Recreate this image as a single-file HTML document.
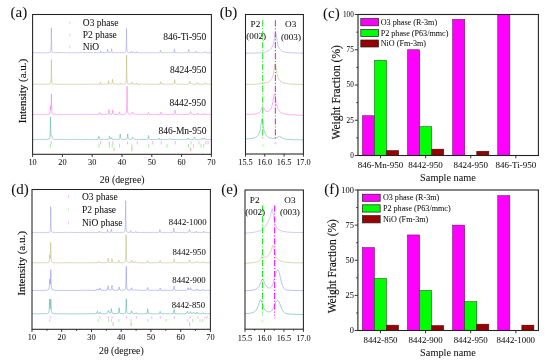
<!DOCTYPE html>
<html><head><meta charset="utf-8"><title>XRD figure</title>
<style>
html,body{margin:0;padding:0;background:#fff;}
svg{display:block;font-family:"Liberation Serif",serif;filter:blur(0.35px);}
</style></head>
<body>
<svg width="550" height="361" viewBox="0 0 550 361">
<rect width="550" height="361" fill="#fff"/>
<path d="M32.6 52.6L32.9 52.7L33.3 52.7L34.0 52.7L34.3 52.6L34.7 52.6L35.0 52.8L35.4 52.6L35.7 52.6L36.0 52.8L36.4 52.7L36.7 52.8L37.1 52.7L37.4 52.7L37.8 52.6L38.4 52.8L38.8 52.7L39.5 52.7L39.8 52.6L40.2 52.8L41.2 52.6L41.5 52.8L41.9 52.7L42.6 52.8L42.9 52.7L43.3 52.8L43.6 52.7L43.9 52.8L44.3 52.7L44.6 52.8L45.0 52.8L45.3 52.6L46.0 52.6L46.4 52.8L46.7 52.7L47.0 52.7L47.4 52.6L47.7 52.7L48.4 52.6L49.4 52.6L50.1 52.4L50.5 52.0L50.6 51.7L50.8 50.8L51.0 47.8L51.2 42.9L51.4 27.8L51.6 43.8L51.7 47.7L51.9 50.3L52.0 51.4L52.1 51.5L52.2 51.8L52.9 52.3L53.6 52.6L54.3 52.5L54.6 52.7L55.0 52.6L55.3 52.8L55.6 52.8L56.0 52.6L58.0 52.7L58.4 52.8L58.7 52.7L59.1 52.7L59.4 52.7L59.8 52.6L60.1 52.6L60.5 52.8L60.8 52.7L61.1 52.7L61.5 52.6L62.2 52.7L62.5 52.6L62.9 52.7L63.2 52.7L63.5 52.6L63.9 52.7L64.2 52.7L64.6 52.7L64.9 52.7L65.3 52.7L65.6 52.8L66.0 52.6L66.3 52.6L66.6 52.7L67.0 52.8L67.3 52.6L68.0 52.7L68.4 52.7L69.0 52.6L69.7 52.7L70.1 52.6L70.4 52.7L70.8 52.8L71.1 52.6L71.5 52.7L71.8 52.8L72.1 52.6L72.5 52.6L72.8 52.8L73.2 52.6L73.5 52.6L74.2 52.7L74.5 52.6L75.2 52.7L75.6 52.8L75.9 52.7L76.3 52.8L76.6 52.6L77.6 52.8L78.0 52.7L78.7 52.6L79.0 52.7L79.4 52.6L79.7 52.8L80.1 52.8L80.4 52.6L80.7 52.6L81.1 52.8L81.4 52.7L81.8 52.8L82.5 52.6L82.8 52.6L83.1 52.8L83.5 52.6L84.9 52.7L85.2 52.8L85.6 52.6L85.9 52.6L86.2 52.8L86.9 52.8L87.3 52.7L87.6 52.8L88.0 52.8L88.3 52.6L88.6 52.8L89.0 52.8L90.0 52.6L91.1 52.6L91.4 52.7L91.7 52.6L92.1 52.8L92.4 52.6L92.8 52.8L93.1 52.7L93.5 52.8L94.1 52.8L94.8 52.6L95.2 52.8L95.5 52.6L96.2 52.7L96.9 52.7L97.2 52.8L98.3 52.6L98.6 52.8L99.0 52.7L99.3 52.7L99.7 52.5L99.9 52.7L100.0 52.5L100.0 52.6L100.0 52.6L100.2 52.5L100.3 52.3L100.4 52.4L100.8 50.9L100.8 50.8L100.9 50.8L101.2 52.3L101.3 52.4L101.4 52.2L101.4 52.4L101.6 52.5L101.7 52.6L101.9 52.5L102.0 52.6L102.1 52.5L102.4 52.7L102.7 52.7L103.4 52.6L104.8 52.7L105.2 52.6L105.5 52.7L106.5 52.5L106.7 52.6L106.7 52.5L106.8 52.5L106.9 52.3L107.1 52.3L107.1 52.0L107.3 51.9L107.4 51.5L107.7 49.2L107.8 49.4L107.9 51.0L108.2 52.0L108.2 52.1L108.3 52.0L108.3 52.3L108.4 52.2L108.6 52.5L108.6 52.3L108.7 52.4L108.8 52.6L108.9 52.5L109.3 52.5L109.6 52.7L110.0 52.5L110.3 52.6L110.5 52.5L110.6 52.6L110.8 52.2L110.9 52.3L111.0 52.1L111.0 52.0L111.1 51.9L111.3 50.6L111.6 48.6L112.0 51.6L112.3 52.4L112.4 52.3L112.4 52.4L112.4 52.3L112.6 52.6L113.1 52.6L113.7 52.7L114.1 52.6L114.4 52.6L114.8 52.7L115.1 52.8L115.5 52.7L115.8 52.7L116.2 52.7L116.5 52.6L117.2 52.6L117.5 52.7L118.2 52.6L118.9 52.8L119.2 52.6L119.6 52.7L119.9 52.7L120.3 52.8L121.0 52.6L121.7 52.5L122.0 52.7L122.7 52.6L123.4 52.6L123.7 52.7L124.1 52.5L124.4 52.7L124.8 52.5L125.1 52.4L125.4 52.1L125.7 51.7L125.9 50.8L126.0 49.8L126.3 44.1L126.5 28.6L126.7 44.1L126.9 49.1L127.0 50.8L127.2 51.5L127.2 51.4L127.5 52.1L127.8 52.4L128.2 52.3L128.5 52.5L129.2 52.6L129.6 52.5L130.1 52.7L130.3 52.5L130.5 52.6L130.6 52.4L130.6 52.6L130.7 52.6L130.8 52.3L130.9 52.5L131.0 52.2L131.1 52.2L131.4 51.4L131.5 51.2L131.6 51.2L131.8 52.0L132.2 52.5L132.3 52.5L132.4 52.4L132.5 52.6L132.6 52.6L132.7 52.5L132.7 52.7L132.9 52.5L133.0 52.7L133.3 52.5L134.0 52.7L134.9 52.7L135.2 52.5L135.3 52.7L135.5 52.6L135.6 52.6L135.8 52.4L135.9 52.4L136.0 52.1L136.1 52.0L136.3 51.6L136.4 51.7L136.6 52.3L136.7 52.3L136.8 52.5L136.8 52.3L136.9 52.4L137.1 52.5L137.1 52.6L137.2 52.6L137.3 52.5L137.4 52.5L137.5 52.7L137.6 52.7L138.2 52.6L138.5 52.6L138.8 52.6L139.5 52.7L139.9 52.6L140.2 52.6L140.6 52.8L140.9 52.6L141.3 52.8L141.9 52.8L142.3 52.7L143.3 52.7L143.7 52.8L144.3 52.6L144.7 52.8L145.0 52.7L145.7 52.8L146.1 52.6L146.4 52.8L148.1 52.6L148.5 52.7L148.8 52.6L149.2 52.7L149.5 52.7L149.9 52.7L150.5 52.8L150.9 52.8L151.2 52.6L151.6 52.8L151.9 52.7L152.3 52.6L152.6 52.7L153.3 52.6L154.0 52.8L154.3 52.6L154.7 52.8L155.0 52.7L155.4 52.6L155.7 52.8L156.0 52.7L156.4 52.8L157.1 52.7L157.4 52.6L157.8 52.8L158.1 52.8L158.4 52.8L158.8 52.6L159.1 52.7L159.5 52.4L159.8 52.4L160.0 52.2L160.2 51.7L160.4 50.3L160.5 50.4L160.7 51.5L160.9 52.3L161.0 52.2L161.1 52.4L161.2 52.4L161.3 52.5L161.5 52.4L161.9 52.6L162.2 52.5L162.6 52.5L162.9 52.7L163.3 52.7L163.6 52.7L163.9 52.6L164.3 52.7L164.6 52.7L165.0 52.6L165.3 52.8L165.7 52.6L166.0 52.6L166.4 52.7L166.7 52.6L167.0 52.7L168.1 52.6L168.4 52.7L168.8 52.6L169.1 52.8L169.5 52.7L169.8 52.8L170.1 52.6L170.8 52.6L171.2 52.8L172.2 52.5L172.5 52.7L172.9 52.7L173.2 52.6L173.3 52.4L173.6 52.3L173.7 52.3L173.7 52.3L173.8 52.3L173.9 52.0L173.9 52.1L174.1 51.4L174.4 49.1L174.4 48.8L174.5 49.0L174.8 51.2L175.0 52.1L175.0 52.0L175.1 52.3L175.2 52.5L175.3 52.4L175.3 52.5L175.4 52.4L175.6 52.5L175.6 52.6L176.7 52.6L177.0 52.7L177.7 52.7L178.7 52.6L179.1 52.7L179.4 52.6L180.1 52.8L180.5 52.7L180.8 52.6L181.1 52.6L181.5 52.8L181.8 52.7L182.5 52.8L182.9 52.7L183.2 52.8L184.6 52.6L185.3 52.8L185.6 52.6L186.0 52.7L186.3 52.5L186.6 52.5L187.0 52.6L187.4 52.4L187.5 52.4L187.6 52.5L187.7 52.5L187.7 52.3L187.9 52.5L188.0 52.2L188.0 52.2L188.2 52.1L188.4 51.5L188.7 49.4L188.8 49.1L188.9 49.4L189.1 51.5L189.2 51.7L189.4 52.2L189.7 52.5L189.8 52.4L189.9 52.5L190.0 52.5L190.1 52.4L190.1 52.6L190.4 52.6L190.8 52.7L191.1 52.6L191.5 52.7L191.8 52.6L192.1 52.7L192.5 52.5L193.2 52.7L193.5 52.5L193.9 52.7L194.2 52.7L194.2 52.6L194.5 52.6L194.6 52.5L194.7 52.7L195.0 52.4L195.2 52.3L195.2 52.5L195.4 52.2L195.9 51.2L196.1 51.8L196.5 52.4L196.6 52.5L196.6 52.3L196.7 52.6L196.9 52.4L197.0 52.4L197.0 52.6L197.1 52.5L197.3 52.6L197.3 52.5L197.5 52.7L197.6 52.6L198.0 52.6L198.3 52.7L198.7 52.7L199.4 52.6L200.1 52.7L200.4 52.6L200.7 52.6L201.1 52.7L201.4 52.7L201.8 52.8L202.5 52.8L203.1 52.6L203.4 52.6L203.5 52.6L203.7 52.7L203.8 52.5L203.9 52.6L204.0 52.6L204.2 52.4L204.2 52.5L204.4 52.1L204.5 52.0L204.5 52.0L204.7 51.5L204.8 51.4L205.3 52.4L205.4 52.3L205.7 52.5L205.9 52.5L205.9 52.6L206.0 52.5L206.2 52.6L206.3 52.7L206.6 52.5L206.9 52.6L208.0 52.8L208.3 52.8L208.6 52.6L209.0 52.6L209.3 52.8L209.7 52.8L210.0 52.7L210.4 52.8L211.4 52.6" fill="none" stroke="#a2a2e2" stroke-width="0.6"/>
<path d="M32.6 84.1L32.9 84.1L33.3 84.2L34.0 84.1L34.7 84.3L35.4 84.3L35.7 84.1L36.0 84.2L37.1 84.1L37.4 84.1L37.8 84.3L38.8 84.3L39.1 84.1L39.8 84.2L40.9 84.3L41.2 84.1L41.5 84.2L41.9 84.2L42.6 84.1L42.9 84.2L43.3 84.1L43.6 84.3L44.6 84.1L45.0 84.3L45.3 84.2L45.7 84.3L46.7 84.1L47.0 84.2L47.7 84.1L48.1 84.1L48.4 84.2L48.8 84.0L49.1 84.0L49.4 84.1L50.1 83.8L50.5 83.4L50.6 83.1L50.7 83.1L50.8 82.2L51.0 79.3L51.2 75.5L51.4 59.7L51.6 75.3L51.7 79.4L51.9 81.8L52.0 82.6L52.1 83.2L52.5 83.8L53.6 84.0L53.9 84.0L54.6 84.3L55.3 84.0L56.0 84.1L56.3 84.2L56.7 84.1L57.4 84.1L57.7 84.3L58.0 84.2L58.7 84.1L59.4 84.1L59.8 84.2L60.1 84.1L60.5 84.1L60.8 84.2L61.1 84.1L61.5 84.3L61.8 84.1L62.5 84.3L62.9 84.2L63.2 84.3L63.5 84.2L63.9 84.1L64.2 84.2L64.6 84.1L64.9 84.2L65.3 84.1L65.6 84.3L66.0 84.3L66.6 84.1L67.0 84.1L68.0 84.1L68.4 84.3L68.7 84.1L69.0 84.1L69.4 84.3L69.7 84.2L70.1 84.3L70.4 84.2L70.8 84.3L71.1 84.2L71.8 84.3L72.5 84.1L72.8 84.1L73.2 84.3L73.9 84.3L74.2 84.2L74.9 84.3L75.2 84.2L75.6 84.3L75.9 84.2L76.6 84.2L77.0 84.1L77.3 84.3L77.6 84.3L78.0 84.1L78.3 84.3L78.7 84.3L79.0 84.2L79.4 84.1L79.7 84.3L80.1 84.1L80.4 84.3L81.1 84.1L81.4 84.1L81.8 84.2L82.1 84.2L82.8 84.3L83.1 84.1L83.5 84.1L83.8 84.3L84.2 84.1L84.5 84.3L84.9 84.1L85.2 84.3L85.9 84.3L86.2 84.2L86.6 84.3L86.9 84.1L87.3 84.2L87.6 84.2L88.0 84.3L88.6 84.2L89.0 84.2L89.3 84.1L89.7 84.1L90.0 84.2L90.4 84.2L90.7 84.3L91.4 84.1L92.1 84.3L92.8 84.1L93.1 84.3L93.5 84.3L93.8 84.1L94.1 84.2L94.5 84.2L94.8 84.3L95.2 84.1L95.5 84.1L96.2 84.3L96.6 84.1L96.9 84.1L97.6 84.3L98.3 84.1L98.6 84.2L99.0 84.2L99.2 84.0L99.3 84.2L99.3 84.0L99.5 84.1L99.6 84.0L99.7 84.1L99.7 83.9L99.8 84.0L100.2 83.2L100.4 82.3L100.5 82.1L101.0 83.8L101.1 83.8L101.3 84.1L101.4 84.0L101.5 84.1L101.6 84.0L101.7 84.2L101.7 84.1L101.8 84.2L101.9 84.1L102.1 84.2L102.4 84.2L103.4 84.1L103.8 84.2L104.1 84.1L104.5 84.2L104.8 84.1L105.5 84.1L105.8 84.2L106.2 84.1L106.5 84.2L106.9 84.1L107.2 84.1L107.5 84.0L107.6 84.0L107.6 83.9L107.7 84.1L107.8 83.8L107.9 83.9L108.1 83.4L108.2 83.4L108.4 82.5L108.5 80.9L108.6 80.7L108.9 83.2L109.0 83.1L109.1 83.5L109.3 83.9L109.4 83.8L109.5 84.0L109.5 83.9L109.6 84.1L110.0 84.0L111.3 84.1L111.4 83.9L111.5 83.8L111.6 83.9L111.7 83.5L111.9 83.4L112.0 83.1L112.1 82.5L112.4 79.7L112.5 79.3L112.8 82.3L112.9 83.3L113.1 83.6L113.1 83.5L113.3 83.7L113.3 84.0L113.4 83.8L113.4 84.0L113.6 84.0L113.7 84.1L114.1 84.0L114.4 84.1L114.8 84.0L115.5 84.0L115.8 84.1L116.5 84.1L116.8 84.3L117.2 84.1L117.5 84.3L118.6 84.2L118.9 84.3L119.1 84.2L119.2 84.1L119.4 84.2L119.6 84.1L119.6 84.0L119.7 84.1L119.9 83.9L120.0 84.0L120.1 83.7L120.3 83.6L120.4 83.2L120.5 83.1L120.6 83.3L120.6 83.2L120.7 83.6L120.8 83.5L120.9 83.9L121.0 83.8L121.1 84.1L121.2 84.1L121.3 84.0L121.3 84.1L121.5 84.1L121.6 84.0L121.7 84.2L121.8 84.2L122.0 84.2L122.3 84.1L122.7 84.2L123.0 84.2L123.7 84.0L124.4 84.1L124.8 83.9L125.1 83.9L125.4 83.7L125.8 83.1L125.9 82.8L126.1 81.4L126.3 78.5L126.4 73.9L126.6 55.2L126.8 73.7L127.0 79.6L127.2 81.9L127.3 82.8L127.5 83.2L128.2 84.0L128.9 84.1L129.2 83.9L129.6 84.1L129.9 84.0L130.3 84.1L130.4 84.0L130.5 84.0L130.6 84.1L130.7 84.1L130.8 83.9L131.0 83.9L131.1 83.7L131.2 83.7L131.3 83.8L131.4 83.5L131.8 82.1L132.0 82.4L132.1 83.3L132.2 83.4L132.3 83.7L132.3 83.6L132.5 83.9L132.6 83.9L132.7 84.0L132.7 83.9L132.8 84.0L132.9 83.9L133.1 84.2L133.2 84.0L133.3 84.2L133.7 84.0L134.0 84.3L134.4 84.1L134.7 84.0L135.1 84.1L135.4 84.2L135.5 84.2L135.6 84.2L135.8 84.0L136.0 84.2L136.1 84.0L136.2 84.1L136.3 83.9L136.4 84.0L136.4 83.8L136.5 83.8L136.7 83.6L136.8 83.2L136.8 83.4L136.9 83.1L137.0 83.3L137.1 83.4L137.1 83.6L137.2 83.6L137.4 83.8L137.6 84.2L137.8 84.1L137.8 84.2L137.9 84.0L138.0 84.0L138.1 84.2L138.2 84.3L138.2 84.2L138.3 84.3L138.5 84.0L138.8 84.3L139.5 84.2L139.9 84.3L140.2 84.1L140.9 84.1L141.6 84.2L142.3 84.2L143.0 84.3L143.3 84.3L143.7 84.1L144.7 84.1L145.0 84.2L145.4 84.1L145.7 84.2L146.4 84.2L147.1 84.3L147.4 84.1L147.8 84.2L148.1 84.3L148.5 84.1L148.8 84.1L149.2 84.1L149.5 84.3L150.2 84.3L150.9 84.1L151.6 84.3L152.3 84.1L152.9 84.2L153.6 84.2L154.3 84.1L154.7 84.3L155.0 84.3L155.7 84.1L156.7 84.3L157.1 84.2L157.4 84.3L158.1 84.1L158.4 84.2L159.5 84.2L159.6 84.0L159.8 84.1L159.9 83.9L160.1 83.9L160.2 83.8L160.2 83.8L160.5 83.0L160.7 81.9L160.7 81.7L161.0 83.0L161.1 83.5L161.2 83.6L161.2 83.8L161.3 83.8L161.4 84.0L161.5 83.9L161.5 84.0L161.6 83.9L161.7 84.1L161.8 84.2L161.9 84.0L161.9 84.2L162.9 84.2L163.6 84.1L164.3 84.3L164.6 84.1L165.0 84.2L165.3 84.1L166.0 84.3L166.4 84.3L166.7 84.1L167.0 84.2L167.4 84.1L168.1 84.3L168.4 84.3L168.8 84.1L169.1 84.2L169.5 84.1L170.1 84.3L170.5 84.1L170.8 84.3L171.5 84.3L171.9 84.1L172.2 84.3L172.9 84.3L173.2 84.0L173.6 83.9L173.7 84.0L173.9 83.8L174.0 83.9L174.3 83.4L174.4 82.5L174.7 79.6L175.1 82.7L175.2 83.4L175.5 83.9L175.7 83.9L175.8 84.0L175.9 83.9L176.0 84.0L176.3 84.1L177.4 84.2L177.7 84.1L178.0 84.3L178.4 84.2L179.1 84.3L179.4 84.2L179.8 84.1L181.5 84.1L181.8 84.2L182.5 84.2L182.9 84.2L183.2 84.1L183.5 84.3L183.9 84.3L184.2 84.1L184.6 84.3L184.9 84.1L185.3 84.1L185.6 84.3L186.0 84.0L186.3 84.0L186.6 84.3L187.0 84.0L187.3 84.2L188.3 84.0L188.4 84.2L188.4 84.0L188.5 84.0L188.7 84.0L188.9 83.8L189.0 83.9L189.0 83.7L189.2 83.5L189.3 83.5L189.7 82.2L189.8 81.5L189.9 81.2L190.1 81.4L190.4 83.2L190.7 83.7L190.8 83.7L190.8 83.6L190.9 83.8L191.1 83.8L191.1 83.9L191.3 83.9L191.5 84.1L191.6 84.2L191.8 84.0L192.5 84.2L192.8 84.1L193.2 84.3L193.5 84.1L193.9 84.3L194.6 84.3L195.6 84.1L195.8 84.2L195.9 84.1L196.1 84.2L196.3 83.9L196.4 84.1L196.6 84.0L196.8 83.7L196.9 83.6L197.0 83.7L197.4 82.6L197.5 82.9L197.6 83.0L197.8 83.5L198.0 83.9L198.2 83.9L198.5 84.1L198.7 84.1L198.7 84.2L198.8 84.2L199.0 84.2L199.7 84.1L201.1 84.3L201.8 84.2L202.1 84.1L202.5 84.2L202.8 84.1L203.1 84.2L203.8 84.0L203.8 84.2L204.1 84.0L204.2 84.2L204.4 84.0L204.5 84.1L204.8 83.7L205.0 83.6L205.1 83.5L205.2 83.1L205.4 82.6L205.7 83.0L205.9 83.7L205.9 83.6L206.2 83.9L206.6 84.2L206.6 84.0L206.8 84.1L206.9 84.0L207.0 84.0L207.1 84.2L207.3 84.1L208.0 84.3L208.6 84.1L209.3 84.2L210.0 84.1L210.4 84.3L210.7 84.2L211.4 84.3" fill="none" stroke="#bdbd7e" stroke-width="0.6"/>
<path d="M32.6 114.5L34.3 114.6L34.7 114.4L35.4 114.6L35.7 114.5L36.0 114.6L36.4 114.4L36.7 114.5L37.1 114.4L37.8 114.5L38.1 114.4L38.8 114.4L39.1 114.6L39.5 114.6L39.8 114.4L40.2 114.6L40.5 114.4L40.9 114.5L41.2 114.4L41.5 114.4L41.9 114.6L42.2 114.4L42.6 114.4L42.9 114.6L43.3 114.6L43.6 114.4L43.9 114.6L44.3 114.5L44.6 114.5L45.0 114.4L45.3 114.6L45.7 114.5L46.0 114.6L46.4 114.5L46.7 114.4L47.0 114.4L48.1 114.2L48.8 114.2L49.1 113.9L49.3 114.0L49.4 113.7L49.4 113.9L49.8 113.2L49.8 112.9L49.8 113.0L50.0 112.0L50.4 105.5L50.7 109.8L50.8 110.2L51.0 109.4L51.1 106.2L51.4 93.9L51.7 107.0L51.9 111.3L52.1 113.1L52.2 113.0L52.3 113.5L52.3 113.4L52.5 113.8L52.9 114.2L53.6 114.4L53.9 114.2L54.3 114.3L54.6 114.3L55.0 114.5L55.3 114.4L55.6 114.4L56.0 114.6L56.7 114.6L57.0 114.4L57.7 114.5L59.1 114.4L59.4 114.4L59.8 114.6L61.5 114.4L61.8 114.4L62.2 114.6L62.5 114.6L62.9 114.5L63.2 114.6L64.6 114.6L64.9 114.5L65.3 114.5L65.6 114.4L66.3 114.6L66.6 114.5L67.0 114.4L67.3 114.6L68.0 114.5L68.4 114.4L68.7 114.5L69.0 114.4L69.4 114.5L69.7 114.5L70.1 114.6L70.4 114.5L70.8 114.6L71.1 114.5L72.1 114.6L72.5 114.5L72.8 114.6L73.5 114.5L73.9 114.6L74.2 114.6L74.5 114.5L74.9 114.5L75.2 114.4L75.6 114.6L75.9 114.6L76.3 114.5L77.3 114.6L77.6 114.4L78.0 114.6L79.0 114.5L79.7 114.6L80.4 114.6L80.7 114.4L81.8 114.5L82.1 114.4L82.5 114.5L82.8 114.5L83.1 114.4L83.5 114.5L84.2 114.4L84.9 114.4L85.9 114.4L86.2 114.5L86.6 114.5L86.9 114.5L87.3 114.5L87.6 114.4L88.0 114.6L88.3 114.4L88.6 114.5L89.3 114.5L89.7 114.4L90.0 114.6L90.7 114.4L91.1 114.5L91.4 114.4L91.7 114.5L92.1 114.4L92.8 114.6L93.5 114.5L93.8 114.6L94.8 114.4L95.2 114.5L96.2 114.6L96.9 114.4L97.2 114.5L97.6 114.3L97.7 114.4L97.9 114.4L97.9 114.3L98.0 114.4L98.2 114.4L98.3 114.3L98.6 114.1L98.6 114.3L98.8 114.1L98.9 114.1L99.0 114.0L99.2 113.4L99.3 113.4L99.5 112.7L99.7 112.4L100.3 113.9L100.5 114.0L100.7 114.3L100.8 114.1L101.0 114.3L101.0 114.2L101.1 114.4L101.3 114.4L101.4 114.3L101.6 114.3L101.7 114.5L101.7 114.3L102.1 114.4L103.4 114.5L103.8 114.4L104.1 114.5L104.5 114.4L104.8 114.5L106.5 114.4L106.9 114.4L107.2 114.3L107.5 114.1L107.7 114.3L107.9 114.1L107.9 113.9L108.0 114.0L108.2 113.6L108.5 112.8L108.9 109.4L109.2 112.0L109.5 113.5L109.6 113.8L109.6 113.6L109.8 114.0L109.9 114.0L110.0 114.0L110.2 114.3L110.3 114.1L110.7 114.3L111.0 114.3L111.3 114.3L111.4 114.1L111.5 114.3L111.6 114.3L111.7 114.2L111.8 113.9L111.9 114.1L112.0 113.8L112.1 113.9L112.4 112.8L112.4 112.9L112.7 110.0L112.9 110.3L113.1 112.2L113.4 113.6L113.5 113.9L113.6 113.8L114.0 114.3L114.1 114.1L114.2 114.3L114.4 114.2L114.8 114.4L115.1 114.4L115.5 114.5L115.8 114.4L116.2 114.5L116.5 114.4L116.8 114.4L117.2 114.4L117.5 114.5L118.2 114.3L118.4 114.4L118.5 114.2L118.6 114.3L118.7 114.1L118.8 114.2L118.9 114.0L119.0 114.0L119.1 113.7L119.2 113.7L119.5 112.1L119.6 112.0L119.6 111.8L119.7 112.1L119.8 112.8L120.1 113.9L120.3 114.1L120.3 114.0L120.4 114.2L120.6 114.2L120.7 114.3L121.0 114.2L121.0 114.4L121.7 114.5L122.0 114.4L122.3 114.5L122.7 114.4L123.7 114.4L124.4 114.2L125.1 114.1L125.4 113.9L125.8 113.9L126.1 113.2L126.4 112.2L126.6 110.0L126.8 103.2L127.1 86.4L127.3 104.5L127.5 109.0L127.7 111.8L128.0 113.1L128.2 113.5L128.9 114.0L129.2 114.1L129.9 114.4L130.3 114.2L130.5 114.3L130.6 114.2L130.6 114.3L130.8 114.3L130.9 114.1L131.1 114.1L131.3 114.2L131.5 113.9L131.6 114.0L131.7 113.6L132.0 113.3L132.1 112.6L132.4 112.0L132.7 112.4L132.9 113.3L133.0 113.5L133.0 113.7L133.2 113.7L133.5 114.1L133.6 114.0L133.8 114.2L134.1 114.2L134.2 114.4L134.4 114.3L134.4 114.3L134.7 114.4L135.1 114.3L135.4 114.4L135.8 114.3L136.4 114.6L136.8 114.5L137.1 114.6L137.5 114.4L137.8 114.3L138.2 114.5L139.2 114.4L140.2 114.6L140.6 114.4L141.3 114.6L141.6 114.4L141.9 114.4L142.3 114.4L142.6 114.4L143.0 114.6L143.3 114.6L143.7 114.4L144.3 114.4L144.7 114.4L145.0 114.4L145.7 114.5L146.4 114.3L146.8 114.5L147.1 114.3L147.3 114.3L147.4 114.2L147.4 114.3L147.5 114.3L147.6 114.4L147.7 114.3L147.8 114.3L147.9 114.2L148.1 113.8L148.1 113.8L148.5 112.4L148.8 113.4L149.2 114.2L149.3 114.1L149.4 114.4L149.5 114.3L149.5 114.2L149.7 114.3L149.9 114.5L150.5 114.4L150.9 114.4L151.6 114.4L151.9 114.3L152.3 114.5L152.6 114.6L152.9 114.5L153.3 114.4L153.6 114.5L154.0 114.4L154.3 114.5L154.7 114.5L155.0 114.6L155.4 114.6L155.7 114.4L156.0 114.4L156.4 114.6L156.7 114.5L157.1 114.5L157.4 114.5L158.1 114.6L158.4 114.5L158.8 114.6L159.5 114.3L159.6 114.5L159.8 114.2L159.8 114.5L159.9 114.2L160.0 114.3L160.1 114.2L160.2 114.3L160.5 113.8L160.5 113.8L160.7 113.3L160.9 112.2L161.0 112.1L161.5 113.9L161.5 113.8L161.6 113.9L161.8 114.1L161.9 114.3L162.0 114.2L162.1 114.4L162.2 114.3L162.4 114.5L162.6 114.4L162.9 114.5L163.6 114.3L163.9 114.5L164.3 114.5L164.6 114.4L165.0 114.4L165.7 114.4L167.0 114.5L167.4 114.5L167.7 114.6L169.5 114.5L169.8 114.6L170.1 114.4L170.8 114.5L171.9 114.3L173.2 114.5L173.6 114.4L173.7 114.3L173.8 114.4L173.9 114.2L173.9 114.3L174.0 114.1L174.1 114.2L174.2 114.1L174.4 113.8L174.7 112.5L174.9 110.8L175.0 111.0L175.0 110.5L175.1 110.9L175.4 113.1L175.6 113.8L175.9 114.0L176.0 114.2L176.1 114.3L176.2 114.2L176.3 114.4L176.3 114.2L177.4 114.5L177.7 114.4L178.0 114.5L178.4 114.5L178.7 114.4L179.1 114.4L179.4 114.5L180.1 114.6L180.8 114.5L181.5 114.5L181.8 114.6L182.2 114.4L182.5 114.4L183.2 114.6L183.5 114.4L183.9 114.4L184.9 114.5L185.3 114.4L185.6 114.4L186.0 114.5L187.0 114.5L187.3 114.3L188.0 114.5L188.4 114.5L188.5 114.3L188.6 114.4L188.7 114.4L188.8 114.4L188.9 114.2L189.0 114.3L189.2 114.3L189.4 114.0L189.6 113.8L189.9 113.4L190.4 111.8L190.5 111.5L190.7 111.9L191.0 113.1L191.5 113.9L191.8 114.2L191.9 114.1L192.1 114.3L192.3 114.2L192.5 114.4L192.5 114.3L192.6 114.4L192.8 114.4L193.2 114.5L193.5 114.5L193.9 114.3L194.2 114.5L194.6 114.5L195.2 114.3L195.6 114.4L195.9 114.4L195.9 114.5L196.1 114.5L196.3 114.3L196.6 114.4L196.8 114.2L196.9 114.2L197.0 114.3L197.2 114.0L197.3 114.0L197.5 113.8L197.8 113.0L198.0 113.0L198.3 113.5L198.4 113.8L198.6 113.8L198.7 114.2L198.9 114.1L199.0 114.3L199.0 114.2L199.2 114.2L199.4 114.3L199.6 114.4L199.7 114.3L199.9 114.5L200.1 114.4L200.4 114.3L200.7 114.4L201.1 114.6L201.8 114.4L201.9 114.3L202.1 114.5L202.2 114.4L202.5 114.5L202.8 114.4L202.8 114.2L202.9 114.2L203.1 114.4L203.1 114.2L203.2 114.3L203.5 114.1L203.5 114.0L203.7 113.9L203.9 113.4L204.1 113.7L204.2 113.7L204.2 113.9L204.4 114.1L204.5 114.0L204.5 114.1L204.8 114.3L204.9 114.2L205.0 114.4L205.1 114.3L205.3 114.4L205.4 114.3L205.6 114.4L205.6 114.5L205.7 114.5L205.9 114.3L206.0 114.5L206.2 114.6L206.9 114.4L207.3 114.4L207.6 114.6L208.0 114.6L208.3 114.4L209.0 114.5L209.3 114.4L209.7 114.6L210.0 114.5L210.4 114.6L210.7 114.4L211.4 114.6" fill="none" stroke="#ff7af0" stroke-width="0.6"/>
<path d="M32.6 139.6L32.9 139.6L34.0 139.4L34.3 139.5L34.7 139.5L35.0 139.6L35.4 139.5L35.7 139.6L36.0 139.4L36.4 139.6L37.1 139.5L37.8 139.5L38.1 139.4L38.8 139.6L39.1 139.4L39.5 139.6L40.2 139.6L40.9 139.4L41.2 139.6L41.5 139.6L42.2 139.4L42.6 139.4L42.9 139.5L43.3 139.4L43.6 139.6L44.3 139.4L44.6 139.5L45.0 139.4L45.3 139.5L45.7 139.5L46.0 139.4L47.4 139.5L47.7 139.2L48.4 139.2L48.8 139.0L48.9 139.0L49.1 138.8L49.1 139.0L49.4 138.3L49.5 138.4L49.8 137.5L50.1 134.8L50.2 131.1L50.5 116.9L50.8 130.7L50.9 134.1L51.1 135.7L51.2 135.8L51.2 136.0L51.2 135.9L51.3 136.1L51.5 135.8L51.5 135.9L51.7 135.8L51.9 136.2L52.1 137.2L52.5 138.3L52.9 138.7L53.1 138.8L53.5 139.2L53.6 139.1L53.9 139.3L54.1 139.2L54.3 139.3L54.3 139.2L55.3 139.5L55.6 139.3L56.0 139.3L56.3 139.4L56.7 139.3L57.0 139.3L57.4 139.5L57.7 139.4L58.0 139.5L58.4 139.4L58.7 139.6L59.1 139.6L59.4 139.4L59.8 139.4L60.1 139.6L60.8 139.5L61.1 139.6L61.5 139.6L62.5 139.4L62.9 139.4L63.2 139.4L63.5 139.5L63.9 139.5L64.2 139.4L64.6 139.5L64.9 139.4L65.3 139.4L65.6 139.5L66.0 139.5L66.3 139.6L66.6 139.5L67.0 139.5L67.3 139.4L67.7 139.6L68.0 139.4L68.7 139.6L69.4 139.6L69.7 139.5L70.4 139.6L70.8 139.4L71.1 139.6L71.5 139.6L71.8 139.5L72.1 139.6L72.8 139.4L73.2 139.5L73.5 139.4L73.9 139.6L74.2 139.6L74.5 139.4L74.9 139.6L75.2 139.4L75.6 139.6L75.9 139.4L76.3 139.6L76.6 139.5L77.0 139.6L77.3 139.4L77.6 139.4L78.0 139.6L78.7 139.5L79.0 139.4L79.7 139.5L80.1 139.4L80.4 139.6L80.7 139.6L81.1 139.6L82.1 139.4L82.5 139.6L82.8 139.4L83.1 139.5L83.8 139.5L84.2 139.4L84.5 139.4L84.9 139.5L85.2 139.4L85.6 139.5L85.9 139.4L86.6 139.4L86.9 139.5L88.0 139.4L88.6 139.6L89.3 139.4L90.0 139.4L90.7 139.6L91.4 139.4L92.8 139.5L93.1 139.6L93.5 139.5L94.8 139.6L95.2 139.4L95.9 139.6L96.2 139.4L96.6 139.5L97.4 139.2L97.5 139.4L97.6 139.2L97.6 139.4L97.7 139.2L97.8 139.2L97.9 139.1L98.0 139.2L98.1 139.0L98.3 138.8L98.5 138.1L98.8 136.4L98.9 136.7L99.0 137.5L99.0 137.3L99.2 138.5L99.3 138.9L99.6 139.1L99.7 139.1L99.7 139.3L99.9 139.4L100.0 139.3L100.0 139.4L100.1 139.3L100.3 139.5L101.0 139.6L101.4 139.5L102.1 139.5L102.4 139.4L102.7 139.5L103.1 139.3L103.4 139.4L103.8 139.4L104.1 139.6L104.5 139.3L104.8 139.6L105.2 139.6L105.5 139.4L105.8 139.5L106.2 139.3L107.6 139.3L107.9 139.4L108.1 139.2L108.2 139.3L108.3 139.2L108.4 139.2L108.5 139.1L108.6 139.2L108.7 139.0L108.8 138.9L108.9 138.7L109.3 137.2L109.4 136.3L109.5 136.0L109.6 136.3L109.8 137.7L110.0 138.6L110.3 139.0L110.3 138.8L110.4 139.1L110.5 139.1L110.5 139.0L110.6 138.9L110.7 139.1L110.8 138.8L110.9 138.9L110.9 138.8L111.0 138.9L111.1 138.8L111.3 137.9L111.6 137.5L111.7 137.6L111.9 138.5L112.2 139.0L112.4 139.1L112.4 139.2L112.6 139.3L112.7 139.2L112.9 139.2L113.1 139.4L113.1 139.3L113.2 139.4L113.4 139.3L113.7 139.5L114.1 139.5L114.4 139.3L114.8 139.6L115.5 139.3L115.8 139.4L116.2 139.4L116.5 139.5L116.8 139.5L117.2 139.3L117.5 139.3L118.2 139.5L118.6 139.4L118.8 139.2L118.9 139.1L118.9 139.2L119.0 139.1L119.1 139.2L119.2 139.0L119.3 139.1L119.5 138.7L119.6 138.3L119.7 138.1L119.9 136.9L120.1 134.5L120.2 134.0L120.3 134.2L120.6 137.7L120.8 138.4L121.0 138.7L121.0 138.7L121.2 139.1L121.3 139.0L121.3 139.1L121.4 139.0L121.5 139.3L121.6 139.4L121.7 139.3L122.0 139.3L122.3 139.3L122.7 139.3L123.0 139.5L123.7 139.5L124.8 139.3L125.1 139.4L125.4 139.3L126.1 139.4L126.3 139.2L126.4 139.3L126.6 139.0L126.7 139.1L126.8 139.0L126.9 138.7L127.0 138.7L127.2 138.1L127.7 133.9L128.1 137.5L128.3 138.5L128.5 138.8L128.6 139.0L128.7 138.9L129.0 139.2L129.1 139.1L129.2 139.2L129.6 139.3L130.3 139.4L130.6 139.3L130.6 139.4L130.8 139.4L130.9 139.3L131.2 139.3L131.3 139.2L131.4 139.1L131.5 139.3L131.6 139.1L131.8 138.9L132.0 138.9L132.0 138.8L132.1 138.7L132.6 137.2L132.7 137.0L132.9 137.1L133.2 138.2L133.6 138.9L134.0 139.3L134.2 139.3L134.4 139.3L134.4 139.3L134.7 139.5L134.7 139.3L134.8 139.2L135.1 139.3L135.8 139.5L136.1 139.4L136.4 139.5L136.8 139.5L137.5 139.6L137.8 139.4L138.2 139.5L138.5 139.4L139.5 139.5L139.9 139.4L140.2 139.4L141.6 139.4L143.0 139.5L144.0 139.4L144.3 139.5L144.7 139.4L145.4 139.4L145.7 139.5L146.1 139.3L147.1 139.4L147.3 139.3L147.4 139.1L147.4 139.3L147.8 138.9L147.8 138.8L147.9 138.7L148.0 138.5L148.3 136.8L148.4 135.9L148.5 135.5L148.5 135.5L148.6 135.9L148.9 138.1L149.1 138.7L149.2 138.8L149.3 139.1L149.4 139.0L149.5 139.2L149.7 139.2L149.8 139.3L149.9 139.4L149.9 139.2L150.2 139.5L150.9 139.4L152.3 139.6L152.6 139.5L153.3 139.4L153.6 139.6L154.3 139.4L154.7 139.5L155.0 139.4L155.7 139.5L156.4 139.5L156.7 139.6L157.1 139.5L157.4 139.6L157.6 139.5L157.7 139.4L157.8 139.5L157.8 139.4L157.9 139.5L158.2 139.3L158.3 139.5L158.4 139.2L158.5 139.4L158.7 139.1L158.8 139.0L158.9 139.0L159.1 138.6L159.1 138.7L159.3 138.5L159.4 138.5L159.5 138.9L159.5 138.7L159.7 139.1L159.8 139.3L159.8 139.2L160.2 139.3L160.2 139.4L160.5 139.3L160.6 139.5L160.8 139.4L160.9 139.4L160.9 139.6L161.2 139.5L161.5 139.6L162.2 139.5L162.6 139.4L162.9 139.6L163.3 139.6L163.6 139.4L163.9 139.4L164.3 139.5L164.6 139.5L165.0 139.4L165.3 139.6L165.7 139.4L166.0 139.5L166.7 139.4L167.0 139.5L167.4 139.5L168.0 139.5L168.1 139.3L168.2 139.4L168.4 139.4L168.4 139.4L168.5 139.3L168.7 139.4L168.8 139.3L169.1 139.3L169.4 138.8L169.5 138.9L169.7 138.6L169.9 138.7L170.0 139.0L170.1 139.1L170.3 139.2L170.4 139.2L170.5 139.3L170.5 139.3L170.6 139.3L170.8 139.5L171.0 139.4L171.1 139.5L171.2 139.4L171.9 139.4L172.2 139.6L172.5 139.5L173.9 139.5L174.3 139.4L174.6 139.4L175.0 139.5L175.3 139.5L175.6 139.4L176.3 139.4L176.7 139.6L177.0 139.6L177.4 139.4L177.7 139.5L178.4 139.4L178.7 139.4L179.1 139.6L179.4 139.6L179.8 139.4L180.1 139.6L180.5 139.4L180.8 139.5L181.1 139.4L181.5 139.5L181.8 139.5L182.2 139.6L182.5 139.5L182.9 139.6L183.2 139.4L183.5 139.5L184.2 139.4L184.6 139.6L184.9 139.4L185.3 139.4L186.0 139.4L186.3 139.5L186.5 139.5L186.6 139.4L186.7 139.5L186.8 139.3L187.0 139.5L187.6 139.1L187.7 138.9L187.7 139.0L188.2 137.9L188.3 138.2L188.4 138.2L188.6 138.9L188.7 139.0L188.8 139.2L189.0 139.2L189.0 139.3L189.1 139.3L189.3 139.4L189.4 139.3L189.5 139.5L189.6 139.3L189.7 139.5L189.7 139.4L189.8 139.4L190.1 139.3L190.4 139.4L190.8 139.4L191.5 139.5L191.8 139.3L192.1 139.3L192.3 139.5L192.5 139.3L192.5 139.4L192.8 139.4L192.8 139.2L192.9 139.4L193.1 139.4L193.2 139.1L193.4 139.3L193.7 139.0L193.8 138.8L194.2 137.7L194.3 137.7L194.4 137.5L194.6 137.8L194.6 137.6L194.9 138.7L195.0 138.7L195.2 139.1L195.3 139.2L195.5 139.1L195.6 139.3L195.6 139.2L195.8 139.3L195.9 139.2L196.1 139.4L196.2 139.3L196.3 139.4L196.4 139.3L196.6 139.4L197.0 139.4L197.3 139.6L197.6 139.4L198.7 139.5L199.0 139.4L199.4 139.5L199.7 139.3L199.9 139.5L200.1 139.3L200.4 139.4L200.5 139.4L200.7 139.3L200.7 139.1L200.8 139.3L201.1 139.0L201.1 139.1L201.4 138.6L201.6 138.5L201.7 138.0L201.8 138.1L202.0 138.0L202.3 138.7L202.5 138.8L202.6 139.1L202.8 139.0L203.1 139.2L203.1 139.2L203.4 139.2L203.7 138.7L203.8 138.7L203.8 138.8L203.9 138.4L204.2 138.0L204.4 138.2L204.7 138.8L204.8 138.8L204.9 139.1L205.0 139.0L205.1 139.0L205.2 139.2L205.4 139.2L205.6 139.4L205.6 139.3L205.7 139.3L205.9 139.4L205.9 139.3L206.2 139.4L206.3 139.5L206.6 139.3L206.9 139.5L207.3 139.4L208.0 139.4L208.3 139.6L208.6 139.4L209.0 139.5L210.0 139.4L210.4 139.5L210.7 139.6L211.1 139.4L211.4 139.5" fill="none" stroke="#66b4ae" stroke-width="0.6"/>
<path d="M51.4 141.2V144.4M100.7 141.2V144.4M109.2 141.2V144.4M112.9 141.2V144.4M127.4 141.2V144.4M137.2 141.2V144.4M152.7 141.2V144.4M161.2 141.2V144.4M175.3 141.2V144.4M191.1 141.2V144.4M198.9 141.2V144.4M205.9 141.2V144.4M208.1 141.2V144.4" stroke="#ff9aee" stroke-width="0.8" fill="none"/>
<path d="M50.3 143.8V147.8M99.0 143.8V147.8M109.3 143.8V147.8M112.2 143.8V147.8M119.6 143.8V147.8M131.9 143.8V147.8M148.8 143.8V147.8M167.0 143.8V147.8M188.6 143.8V147.8M193.5 143.8V147.8M201.0 143.8V147.8M203.7 143.8V147.8" stroke="#8cf08c" stroke-width="0.8" fill="none"/>
<path d="M114.0 147.6V151.2M131.9 147.6V151.2M190.7 147.6V151.2" stroke="#f09a9a" stroke-width="0.8" fill="none"/>
<rect x="32.6" y="14.5" width="178.8" height="139.8" fill="none" stroke="#222" stroke-width="1.05"/>
<path d="M32.6 154.3v2.7M62.4 154.3v2.7M92.2 154.3v2.7M122.0 154.3v2.7M151.8 154.3v2.7M181.6 154.3v2.7M211.4 154.3v2.7" stroke="#222" stroke-width="0.9" fill="none"/>
<text x="32.6" y="165.2" font-size="8.3" text-anchor="middle" fill="#111" stroke="#111" stroke-width="0.04" >10</text>
<text x="62.4" y="165.2" font-size="8.3" text-anchor="middle" fill="#111" stroke="#111" stroke-width="0.04" >20</text>
<text x="92.2" y="165.2" font-size="8.3" text-anchor="middle" fill="#111" stroke="#111" stroke-width="0.04" >30</text>
<text x="122.0" y="165.2" font-size="8.3" text-anchor="middle" fill="#111" stroke="#111" stroke-width="0.04" >40</text>
<text x="151.8" y="165.2" font-size="8.3" text-anchor="middle" fill="#111" stroke="#111" stroke-width="0.04" >50</text>
<text x="181.6" y="165.2" font-size="8.3" text-anchor="middle" fill="#111" stroke="#111" stroke-width="0.04" >60</text>
<text x="211.4" y="165.2" font-size="8.3" text-anchor="middle" fill="#111" stroke="#111" stroke-width="0.04" >70</text>
<text x="122.2" y="182.5" font-size="9.8" text-anchor="middle" fill="#111" stroke="#111" stroke-width="0.04" >2θ (degree)</text>
<text transform="translate(25.6 91) rotate(-90)" font-size="11" text-anchor="middle" fill="#111" stroke="#111" stroke-width="0.15" >Intensity (a.u.)</text>
<text x="206.3" y="39.7" font-size="9.5" text-anchor="end" fill="#111" stroke="#111" stroke-width="0.04" >846-Ti-950</text>
<text x="206.3" y="72.5" font-size="9.5" text-anchor="end" fill="#111" stroke="#111" stroke-width="0.04" >8424-950</text>
<text x="206" y="105.9" font-size="9.5" text-anchor="end" fill="#111" stroke="#111" stroke-width="0.04" >8442-950</text>
<text x="206.5" y="133.9" font-size="9.5" text-anchor="end" fill="#111" stroke="#111" stroke-width="0.04" >846-Mn-950</text>
<text x="82.8" y="25.9" font-size="9.5" text-anchor="start" fill="#111" stroke="#111" stroke-width="0.04" >O3 phase</text>
<rect x="69.30000000000001" y="21.2" width="1.2" height="3.2" fill="#fccff4"/>
<text x="82.8" y="38.1" font-size="9.5" text-anchor="start" fill="#111" stroke="#111" stroke-width="0.04" >P2 phase</text>
<rect x="69.30000000000001" y="33.4" width="1.2" height="3.2" fill="#cdf5cd"/>
<text x="82.8" y="50.0" font-size="9.5" text-anchor="start" fill="#111" stroke="#111" stroke-width="0.04" >NiO</text>
<rect x="69.30000000000001" y="45.3" width="1.2" height="3.2" fill="#f5d5da"/>
<text x="10.6" y="17.4" font-size="15" text-anchor="start" fill="#111" stroke="#111" stroke-width="0.05" >(a)</text>
<path d="M32.0 232.4L32.3 232.5L32.7 232.5L33.4 232.5L33.7 232.4L34.1 232.4L34.4 232.6L34.7 232.4L35.1 232.4L35.4 232.6L35.8 232.5L36.1 232.6L36.5 232.5L36.8 232.5L37.1 232.4L37.8 232.6L38.2 232.5L38.9 232.5L39.2 232.4L39.5 232.6L40.6 232.4L40.9 232.6L41.3 232.5L41.9 232.6L42.3 232.5L42.6 232.6L43.0 232.5L43.3 232.6L43.7 232.5L44.0 232.6L44.4 232.6L44.7 232.4L45.4 232.4L45.7 232.6L46.1 232.5L46.4 232.5L46.8 232.4L47.1 232.4L47.8 232.4L48.8 232.4L49.5 232.2L49.8 231.7L50.0 231.5L50.2 230.5L50.4 227.4L50.5 222.3L50.7 206.6L51.0 223.2L51.2 229.4L51.4 231.1L51.5 231.2L51.6 231.5L51.9 231.9L52.6 232.3L52.9 232.4L53.6 232.3L54.0 232.5L54.3 232.4L54.6 232.6L55.0 232.6L55.3 232.4L57.4 232.5L57.7 232.6L58.1 232.5L58.4 232.5L58.8 232.5L59.1 232.4L59.4 232.4L59.8 232.6L60.1 232.5L60.5 232.5L60.8 232.4L61.5 232.5L61.8 232.4L62.2 232.5L62.5 232.5L62.9 232.4L63.2 232.5L63.6 232.5L63.9 232.5L64.2 232.5L64.6 232.5L64.9 232.6L65.3 232.4L65.6 232.4L66.0 232.5L66.3 232.6L66.7 232.4L67.3 232.5L67.7 232.5L68.4 232.4L69.1 232.5L69.4 232.4L69.7 232.5L70.1 232.6L70.4 232.4L70.8 232.5L71.1 232.6L71.5 232.4L71.8 232.4L72.1 232.6L72.5 232.4L72.8 232.4L73.5 232.5L73.9 232.4L74.5 232.5L74.9 232.6L75.2 232.5L75.6 232.6L75.9 232.4L76.9 232.6L77.3 232.5L78.0 232.4L78.3 232.5L78.7 232.4L79.0 232.6L79.3 232.6L79.7 232.4L80.0 232.4L80.4 232.6L80.7 232.5L81.1 232.6L81.7 232.4L82.1 232.4L82.4 232.6L82.8 232.4L84.1 232.5L84.5 232.6L84.8 232.4L85.2 232.4L85.5 232.6L86.2 232.6L86.5 232.5L86.9 232.6L87.2 232.6L87.6 232.4L87.9 232.6L88.3 232.6L89.3 232.4L90.3 232.4L90.7 232.5L91.0 232.4L91.4 232.6L91.7 232.4L92.0 232.6L92.4 232.5L92.7 232.6L93.4 232.6L94.1 232.4L94.4 232.6L94.8 232.4L95.5 232.5L96.2 232.5L96.5 232.6L97.5 232.4L97.9 232.5L98.1 232.4L98.2 232.5L98.2 232.4L98.3 232.3L98.5 232.5L98.6 232.3L98.6 232.4L98.7 232.4L98.9 232.3L99.0 232.0L99.1 232.0L99.2 231.8L99.2 231.5L99.4 231.1L99.5 231.0L99.6 231.1L99.7 231.5L100.1 232.1L100.2 232.4L100.3 232.4L100.3 232.2L100.4 232.3L100.6 232.3L100.7 232.4L101.0 232.4L101.3 232.4L101.6 232.4L102.3 232.5L103.0 232.4L104.4 232.5L104.7 232.4L105.1 232.5L106.1 232.4L106.4 232.4L106.4 232.4L106.5 232.3L106.6 232.4L106.7 232.2L106.8 232.2L106.9 232.0L107.0 232.0L107.1 231.8L107.5 229.4L107.8 231.4L107.9 231.7L108.0 231.9L108.1 231.9L108.2 232.1L108.2 232.0L108.3 232.3L108.4 232.1L108.5 232.2L108.6 232.4L108.6 232.3L108.8 232.2L109.2 232.5L109.5 232.3L109.9 232.5L110.2 232.4L110.4 232.4L110.4 232.3L110.5 232.3L110.6 232.1L110.6 232.3L110.8 232.1L110.8 231.8L110.9 231.9L111.2 230.7L111.4 228.9L111.8 231.5L112.0 232.2L112.1 232.1L112.2 232.3L112.3 232.2L112.3 232.3L112.6 232.4L113.3 232.5L113.7 232.4L114.0 232.4L114.3 232.5L114.7 232.6L115.0 232.5L115.4 232.5L115.7 232.5L116.1 232.4L116.7 232.4L117.1 232.5L117.8 232.4L118.5 232.6L118.8 232.4L119.1 232.5L119.5 232.4L119.8 232.6L120.5 232.4L121.2 232.3L121.5 232.4L122.2 232.3L122.9 232.3L123.3 232.4L123.6 232.2L123.9 232.3L124.6 231.7L125.0 231.0L125.2 229.4L125.3 227.6L125.4 220.9L125.7 200.6L125.9 220.9L126.1 228.6L126.4 231.0L126.7 231.7L127.0 232.1L127.4 232.2L127.7 232.1L128.4 232.3L128.7 232.4L129.1 232.3L129.4 232.5L129.4 232.3L129.5 232.3L129.6 232.2L129.7 232.2L129.8 232.3L129.8 232.1L129.9 232.3L130.0 232.2L130.1 231.9L130.2 232.0L130.7 230.5L130.8 230.7L130.8 230.6L131.0 231.6L131.3 232.1L131.5 232.3L131.6 232.3L131.7 232.2L131.8 232.4L131.9 232.3L132.0 232.5L132.2 232.3L132.5 232.5L132.9 232.3L133.6 232.5L134.4 232.5L134.8 232.3L134.9 232.4L135.0 232.4L135.1 232.4L135.3 232.2L135.4 232.2L135.5 231.9L135.8 231.4L135.9 231.5L136.1 232.1L136.2 232.1L136.3 232.3L136.3 232.1L136.4 232.2L136.6 232.3L136.6 232.5L136.8 232.3L136.9 232.3L137.1 232.5L137.7 232.4L138.0 232.4L138.4 232.4L139.0 232.5L139.4 232.4L139.7 232.4L140.1 232.6L140.4 232.4L140.8 232.6L141.4 232.6L141.8 232.5L142.8 232.5L143.2 232.6L143.8 232.4L144.2 232.6L144.5 232.5L145.2 232.6L145.6 232.4L145.9 232.6L147.6 232.4L148.0 232.5L148.3 232.4L148.6 232.5L149.0 232.5L149.3 232.5L150.0 232.6L150.4 232.6L150.7 232.4L151.0 232.6L151.4 232.5L151.7 232.4L152.1 232.5L152.8 232.4L153.4 232.6L153.8 232.4L154.1 232.6L154.5 232.5L154.8 232.4L155.2 232.6L155.5 232.5L155.9 232.6L156.5 232.5L156.9 232.4L157.2 232.6L157.6 232.6L157.9 232.5L158.3 232.4L158.6 232.5L158.9 232.2L159.2 232.2L159.4 231.9L159.5 231.4L159.9 229.6L159.9 229.8L160.1 231.0L160.3 232.0L160.4 231.9L160.5 232.1L160.7 232.2L160.7 232.3L160.9 232.2L161.3 232.4L161.7 232.3L162.0 232.3L162.4 232.5L162.7 232.5L163.1 232.5L163.4 232.4L163.7 232.5L164.1 232.5L164.4 232.4L164.8 232.6L165.1 232.4L165.5 232.4L165.8 232.5L166.1 232.4L166.5 232.5L167.5 232.4L167.9 232.5L168.2 232.4L168.5 232.6L168.9 232.5L169.2 232.6L169.6 232.4L170.3 232.4L170.6 232.6L171.6 232.3L172.0 232.5L172.3 232.5L172.7 232.3L172.7 232.2L173.0 232.1L173.0 232.0L173.1 232.1L173.2 232.0L173.3 231.7L173.3 231.7L173.5 231.0L173.8 228.1L173.9 228.3L174.1 230.8L174.3 231.6L174.4 231.9L174.4 231.7L174.5 232.0L174.6 232.2L174.7 232.2L174.7 232.3L174.8 232.2L174.9 232.2L175.1 232.4L176.1 232.4L176.4 232.5L177.1 232.5L178.2 232.4L178.5 232.5L178.8 232.4L179.5 232.6L179.9 232.5L180.2 232.4L180.6 232.4L180.9 232.6L181.2 232.5L181.9 232.6L182.3 232.5L182.6 232.6L184.0 232.4L184.7 232.6L185.0 232.4L185.4 232.5L185.7 232.4L186.0 232.3L186.4 232.5L187.1 232.3L187.4 232.3L187.5 232.4L187.7 232.4L187.8 232.2L188.0 232.4L188.1 232.2L188.2 232.2L188.4 232.1L188.4 232.2L188.7 232.0L189.1 230.9L189.1 231.1L189.4 229.7L189.5 229.8L189.6 229.4L189.8 230.0L190.2 231.4L190.5 232.0L190.6 232.0L190.8 232.1L190.9 232.1L191.1 232.3L191.2 232.3L191.2 232.4L191.4 232.2L191.7 232.4L191.9 232.3L192.6 232.4L192.9 232.3L193.6 232.5L193.9 232.4L194.6 232.4L194.8 232.3L194.9 232.4L195.0 232.5L195.0 232.3L195.1 232.4L195.2 232.2L195.4 232.2L195.5 232.4L195.6 232.3L195.7 232.3L195.8 232.1L195.9 232.1L196.4 231.0L196.7 231.4L196.8 231.8L196.9 231.9L197.0 232.2L197.1 232.1L197.3 232.1L197.4 232.4L197.4 232.2L197.6 232.4L197.7 232.3L197.7 232.4L197.9 232.3L198.0 232.4L198.1 232.5L198.4 232.5L199.1 232.4L199.8 232.4L200.1 232.4L200.5 232.4L200.8 232.5L201.1 232.5L201.5 232.6L202.2 232.5L202.2 232.4L202.3 232.3L202.6 232.4L202.8 232.3L202.9 232.4L202.9 232.3L203.1 232.4L203.4 232.0L203.5 232.0L203.5 231.7L203.9 231.2L204.0 231.3L204.3 232.2L204.6 232.4L204.6 232.1L204.7 232.2L204.8 232.2L204.9 232.4L205.0 232.3L205.2 232.4L205.3 232.3L205.3 232.4L205.4 232.4L205.5 232.5L205.6 232.4L206.3 232.4L206.6 232.5L207.7 232.6L208.7 232.4L209.0 232.6L209.4 232.6L209.7 232.5L210.1 232.6L210.4 232.5" fill="none" stroke="#a2a2e2" stroke-width="0.6"/>
<path d="M32.0 262.7L32.3 262.7L32.7 262.8L33.4 262.7L34.1 262.9L34.7 262.9L35.1 262.7L35.4 262.8L36.5 262.7L36.8 262.7L37.1 262.9L38.2 262.9L38.5 262.7L39.2 262.8L40.2 262.9L40.6 262.7L40.9 262.8L41.3 262.8L41.9 262.7L42.3 262.8L42.6 262.7L43.0 262.9L44.0 262.7L44.4 262.9L44.7 262.8L45.0 262.9L46.1 262.7L46.4 262.7L47.1 262.6L47.8 262.7L48.1 262.4L48.5 262.3L48.6 262.3L48.9 262.0L49.0 262.1L49.0 261.7L49.2 261.4L49.4 259.8L49.8 254.8L50.1 258.2L50.1 258.4L50.2 258.2L50.3 257.0L50.7 242.3L51.0 255.3L51.2 259.5L51.4 261.3L51.9 262.3L52.2 262.3L52.6 262.5L52.9 262.7L53.3 262.6L53.6 262.8L54.0 262.7L54.3 262.6L54.6 262.7L55.0 262.6L55.3 262.7L55.7 262.7L56.0 262.9L56.4 262.8L57.0 262.6L57.4 262.7L58.4 262.7L58.8 262.9L59.1 262.7L59.4 262.7L59.8 262.9L60.1 262.8L60.5 262.9L60.8 262.8L61.2 262.9L61.5 262.8L62.2 262.9L62.9 262.7L63.2 262.7L63.6 262.9L64.2 262.9L64.6 262.7L65.3 262.9L65.6 262.8L66.0 262.9L66.3 262.8L67.0 262.8L67.3 262.7L67.7 262.9L68.0 262.9L68.4 262.7L68.7 262.9L69.1 262.9L69.4 262.8L69.7 262.7L70.1 262.9L70.4 262.7L70.8 262.9L71.5 262.7L71.8 262.7L72.1 262.8L72.5 262.8L73.2 262.9L73.5 262.7L73.9 262.7L74.2 262.9L74.5 262.7L74.9 262.9L75.2 262.7L75.6 262.9L76.3 262.9L76.6 262.8L76.9 262.9L77.3 262.7L77.6 262.8L78.0 262.8L78.3 262.9L79.0 262.8L79.3 262.8L79.7 262.7L80.0 262.7L80.4 262.8L80.7 262.8L81.1 262.9L81.7 262.7L82.4 262.9L83.1 262.7L83.5 262.9L83.8 262.9L84.1 262.7L84.5 262.8L84.8 262.8L85.2 262.9L85.5 262.7L85.9 262.7L86.5 262.9L86.9 262.7L87.2 262.7L87.9 262.9L88.6 262.8L89.0 262.9L89.3 262.9L89.6 262.7L90.0 262.9L90.3 262.7L90.7 262.7L91.0 262.9L91.4 262.8L91.7 262.9L92.0 262.7L92.4 262.9L92.7 262.7L93.1 262.7L93.4 262.8L93.8 262.7L94.4 262.9L94.8 262.8L95.1 262.6L95.8 262.8L96.5 262.8L96.8 262.7L96.8 262.6L97.1 262.8L97.2 262.7L97.3 262.8L97.4 262.8L97.9 262.5L97.9 262.7L98.0 262.5L98.2 262.5L98.2 262.3L98.3 262.3L98.5 262.1L98.8 261.3L99.0 261.4L99.2 261.8L99.2 261.8L99.5 262.2L99.6 262.4L99.6 262.3L99.8 262.6L99.9 262.5L99.9 262.6L100.1 262.6L100.2 262.7L100.3 262.5L100.5 262.8L100.6 262.6L100.7 262.7L101.0 262.7L101.0 262.6L101.3 262.6L101.6 262.9L103.0 262.9L103.4 262.7L103.7 262.8L105.4 262.8L105.8 262.6L106.1 262.7L106.8 262.6L106.8 262.6L106.9 262.5L107.0 262.6L107.1 262.4L107.2 262.4L107.3 262.3L107.7 261.3L108.0 258.7L108.2 258.3L108.5 261.2L108.8 262.2L108.9 262.1L109.0 262.2L109.1 262.5L109.2 262.6L109.5 262.4L109.5 262.5L109.9 262.5L110.2 262.7L110.6 262.7L110.7 262.4L110.9 262.4L110.9 262.6L111.0 262.3L111.1 262.4L111.3 262.2L111.3 262.2L111.6 261.2L111.9 258.7L112.1 259.1L112.3 260.8L112.6 262.1L113.0 262.5L113.2 262.4L113.3 262.7L113.4 262.5L113.7 262.6L114.0 262.8L114.3 262.6L115.4 262.8L115.7 262.7L116.4 262.7L116.7 262.6L117.1 262.8L117.4 262.5L117.4 262.8L117.5 262.5L117.6 262.5L117.7 262.7L117.8 262.5L117.9 262.5L118.1 262.4L118.1 262.3L118.2 262.3L118.3 262.2L118.5 261.6L118.8 260.3L118.9 260.4L119.1 261.6L119.1 261.6L119.3 262.2L119.4 262.3L119.5 262.2L119.5 262.4L119.6 262.4L119.7 262.6L119.8 262.6L119.8 262.5L119.9 262.7L120.1 262.6L120.2 262.7L120.9 262.8L122.2 262.7L122.6 262.8L123.3 262.5L123.6 262.6L124.3 262.4L124.6 262.3L125.0 261.8L125.3 261.1L125.6 259.4L125.7 257.3L125.8 252.7L126.1 234.7L126.4 252.6L126.5 257.2L126.7 259.7L126.8 260.6L127.0 261.4L127.4 261.9L127.7 262.2L128.1 262.5L128.4 262.6L128.7 262.5L129.1 262.6L129.4 262.6L129.7 262.7L129.8 262.5L129.8 262.6L130.0 262.5L130.1 262.5L130.3 262.3L130.5 262.3L130.6 262.4L130.7 262.1L130.8 262.2L130.9 262.0L131.0 262.0L131.3 260.9L131.5 260.4L131.6 260.3L131.8 260.7L132.2 261.9L132.2 261.8L132.5 262.3L132.5 262.2L132.6 262.5L132.8 262.4L133.1 262.6L133.2 262.4L133.2 262.6L133.2 262.5L133.4 262.6L133.5 262.5L133.5 262.6L133.6 262.5L133.8 262.5L134.1 262.7L134.3 262.5L134.4 262.6L134.6 262.3L134.7 262.2L134.9 262.2L135.0 261.9L135.2 261.9L135.3 261.7L135.3 262.0L135.6 262.3L135.8 262.3L136.1 262.6L136.3 262.6L136.4 262.6L136.6 262.8L136.8 262.6L137.3 262.7L137.3 262.6L137.7 262.8L138.4 262.7L139.0 262.9L139.4 262.7L139.7 262.7L140.1 262.9L140.4 262.7L140.8 262.7L141.1 262.7L141.4 262.9L142.1 262.9L142.8 262.7L143.5 262.8L144.2 262.7L144.9 262.8L145.6 262.7L146.2 262.6L146.3 262.8L146.6 262.6L146.8 262.7L146.9 262.5L146.9 262.6L147.1 262.3L147.2 262.3L147.4 261.8L147.5 261.3L147.7 260.7L147.8 260.9L148.1 262.1L148.3 262.4L148.3 262.4L148.5 262.6L148.6 262.6L148.6 262.7L148.8 262.6L149.3 262.8L149.7 262.7L150.0 262.8L150.4 262.7L150.7 262.9L151.0 262.8L151.4 262.9L151.7 262.7L152.1 262.8L152.4 262.8L152.8 262.7L153.1 262.9L153.4 262.9L153.8 262.7L154.1 262.9L155.9 262.7L156.5 262.9L156.9 262.7L157.2 262.8L157.6 262.7L158.3 262.9L158.6 262.8L158.8 262.6L158.9 262.6L158.9 262.5L159.0 262.7L159.1 262.7L159.2 262.7L159.3 262.4L159.3 262.5L159.4 262.4L159.6 262.4L159.6 262.1L159.7 262.2L159.8 262.0L160.1 260.7L160.2 260.4L160.2 260.4L160.4 261.5L160.6 262.0L160.7 262.2L161.0 262.6L161.1 262.5L161.2 262.6L161.4 262.6L161.5 262.8L161.7 262.7L162.4 262.7L162.7 262.8L163.1 262.7L163.4 262.8L163.7 262.7L164.1 262.9L164.4 262.7L164.8 262.9L165.8 262.7L166.1 262.7L166.5 262.9L167.5 262.7L167.9 262.8L168.2 262.7L168.9 262.8L169.9 262.8L170.3 262.7L170.6 262.9L170.9 262.8L171.6 262.9L172.0 262.7L172.7 262.6L173.0 262.5L173.0 262.5L173.1 262.4L173.3 262.3L173.3 262.2L173.4 262.3L173.7 261.6L173.9 260.2L174.0 259.0L174.1 258.9L174.2 259.1L174.4 260.5L174.6 261.9L175.0 262.5L175.1 262.4L175.2 262.6L175.3 262.5L175.4 262.5L175.5 262.7L175.7 262.6L176.1 262.8L176.4 262.7L176.8 262.9L177.1 262.7L177.5 262.7L177.8 262.8L178.2 262.6L178.8 262.8L179.5 262.8L179.9 262.9L180.2 262.8L180.6 262.8L181.2 262.7L181.6 262.8L182.3 262.7L182.6 262.7L183.0 262.7L183.6 262.8L184.3 262.9L184.7 262.7L185.4 262.9L185.7 262.7L186.0 262.9L186.4 262.6L186.7 262.8L187.4 262.8L187.8 262.6L187.8 262.7L188.0 262.7L188.1 262.6L188.4 262.5L188.4 262.3L188.7 262.1L188.8 262.2L189.0 261.8L189.5 259.9L189.6 259.8L189.7 260.1L190.0 261.4L190.2 261.5L190.2 261.8L190.3 262.1L190.5 262.2L190.5 262.3L190.8 262.3L191.1 262.6L191.2 262.6L191.4 262.7L191.5 262.7L191.9 262.8L192.6 262.7L193.2 262.8L193.9 262.8L194.6 262.8L194.9 262.6L195.0 262.7L195.1 262.6L195.2 262.7L195.4 262.5L195.5 262.8L195.6 262.7L195.7 262.6L195.8 262.5L196.0 262.6L196.1 262.4L196.3 262.5L196.3 262.4L196.7 261.6L196.9 261.4L197.0 261.3L197.3 261.7L197.4 261.9L197.5 261.9L197.6 262.3L197.8 262.3L198.0 262.6L198.1 262.5L198.2 262.5L198.4 262.6L198.7 262.7L198.8 262.8L199.0 262.7L199.1 262.7L199.1 262.6L199.4 262.7L199.8 262.6L200.1 262.8L200.5 262.7L200.9 262.8L201.1 262.6L201.3 262.7L201.6 262.6L201.8 262.7L201.8 262.7L201.9 262.7L202.2 262.6L202.5 262.3L202.5 262.4L202.7 262.2L202.8 261.8L203.0 261.7L203.4 262.4L203.7 262.5L203.9 262.6L203.9 262.5L204.0 262.5L204.3 262.8L204.5 262.7L204.6 262.8L204.8 262.6L204.9 262.9L205.0 262.9L205.6 262.7L206.6 262.8L207.0 262.7L207.3 262.9L208.0 262.7L208.3 262.7L208.7 262.7L209.0 262.8L209.4 262.7L209.7 262.8L210.1 262.7L210.4 262.9" fill="none" stroke="#bdbd7e" stroke-width="0.6"/>
<path d="M32.0 290.4L33.7 290.5L34.1 290.3L34.7 290.5L35.1 290.4L35.4 290.5L35.8 290.3L36.1 290.4L36.5 290.3L37.1 290.4L37.5 290.3L38.2 290.3L38.5 290.5L38.9 290.4L39.2 290.3L39.5 290.5L39.9 290.3L40.2 290.4L40.6 290.3L40.9 290.2L41.3 290.5L41.6 290.3L41.9 290.3L42.3 290.5L42.6 290.5L43.0 290.3L43.3 290.5L43.7 290.4L44.0 290.4L44.4 290.3L44.7 290.4L45.0 290.4L45.4 290.4L45.7 290.4L46.1 290.2L46.4 290.2L48.1 289.9L48.5 289.5L48.5 289.7L48.7 289.4L48.8 289.4L49.0 288.7L49.1 288.1L49.2 288.2L49.3 287.1L49.8 278.9L50.1 283.9L50.1 283.8L50.2 284.1L50.2 284.1L50.3 283.4L50.5 279.4L50.7 271.3L50.8 269.7L51.2 282.7L51.4 286.2L51.6 287.3L51.7 288.3L51.8 288.5L51.9 289.0L52.0 289.0L52.2 289.5L52.2 289.5L52.6 289.8L52.9 289.8L53.3 290.0L53.6 290.0L54.0 290.3L54.3 290.2L54.6 290.2L55.0 290.4L55.7 290.4L56.0 290.3L56.7 290.4L58.1 290.3L58.4 290.3L58.8 290.5L60.5 290.3L60.8 290.3L61.2 290.4L61.5 290.5L61.8 290.3L62.2 290.5L63.6 290.5L63.9 290.3L64.2 290.4L64.6 290.3L65.3 290.5L65.6 290.4L66.0 290.3L66.3 290.5L67.0 290.4L67.3 290.3L67.7 290.4L68.0 290.3L68.4 290.4L68.7 290.4L69.1 290.5L69.4 290.4L69.7 290.5L70.1 290.4L71.1 290.5L71.5 290.4L71.8 290.5L72.5 290.4L72.8 290.5L73.2 290.5L73.5 290.4L73.9 290.4L74.2 290.3L74.5 290.5L74.9 290.5L75.2 290.4L76.3 290.5L76.6 290.3L76.9 290.5L78.0 290.4L78.7 290.5L79.3 290.4L79.7 290.3L80.7 290.4L81.1 290.3L81.4 290.4L81.7 290.4L82.1 290.3L82.4 290.4L83.1 290.3L83.8 290.3L84.8 290.3L85.2 290.4L85.5 290.4L85.9 290.4L86.2 290.4L86.5 290.3L86.9 290.5L87.2 290.3L87.6 290.4L88.3 290.4L88.6 290.3L89.0 290.5L89.6 290.3L90.0 290.4L90.3 290.3L90.7 290.4L91.0 290.3L91.7 290.5L92.4 290.4L92.7 290.5L93.8 290.3L94.1 290.4L95.1 290.4L95.5 290.3L95.5 290.4L95.6 290.1L95.8 290.2L95.8 290.3L95.9 290.3L96.1 290.1L96.2 290.3L96.5 290.0L96.7 289.9L96.8 289.9L96.8 289.7L97.0 289.7L97.1 289.4L97.3 288.9L97.6 288.9L97.9 289.7L97.9 289.6L98.0 289.7L98.2 289.8L98.2 289.9L98.5 289.9L98.6 290.1L98.8 289.9L98.8 290.0L98.9 289.9L99.0 290.0L99.2 289.9L99.2 289.7L99.5 289.3L99.5 289.5L99.9 288.1L100.1 287.9L100.2 288.0L100.5 289.1L100.8 289.7L101.1 290.0L101.3 290.1L101.3 289.9L101.6 290.1L101.6 290.3L101.9 290.2L102.0 290.1L102.0 290.3L102.2 290.2L102.7 290.3L103.4 290.3L103.7 290.4L104.0 290.3L104.4 290.3L104.7 290.4L105.1 290.2L105.4 290.2L105.8 290.3L106.1 290.1L106.4 290.2L106.7 290.0L106.8 290.1L106.9 289.9L107.1 289.8L107.5 289.2L107.8 287.8L108.1 285.7L108.6 288.8L108.8 289.6L108.9 289.7L109.1 289.7L109.2 289.8L109.2 290.0L109.3 289.8L109.4 290.0L109.5 290.0L109.5 289.9L109.7 290.1L109.8 289.9L110.2 290.0L110.4 289.9L110.6 290.1L110.7 290.0L110.8 289.8L111.0 289.7L111.3 289.5L111.5 288.6L112.0 285.4L112.1 285.8L112.3 287.9L112.5 288.6L112.7 289.3L112.8 289.6L112.9 289.7L113.0 289.8L113.1 289.9L113.2 289.8L113.3 290.1L113.3 289.9L113.5 290.1L113.6 290.1L113.7 290.2L114.3 290.2L114.7 290.3L115.0 290.2L115.4 290.4L115.7 290.2L116.1 290.2L116.4 290.4L117.4 290.1L117.7 290.3L117.8 290.2L117.8 290.3L117.9 290.1L118.0 290.1L118.1 290.0L118.3 289.9L118.5 289.6L118.6 289.5L118.8 288.8L119.0 287.2L119.1 286.9L119.5 289.0L119.7 289.7L119.8 289.8L119.8 289.9L119.9 289.8L120.1 290.2L120.4 290.1L120.9 290.2L121.2 290.2L121.5 290.4L121.9 290.2L122.6 290.2L123.9 290.1L124.3 289.9L124.6 290.0L125.0 289.5L125.1 289.4L125.4 288.8L125.7 286.7L125.9 281.6L126.3 266.3L126.6 281.8L126.7 285.6L126.8 286.8L127.0 288.4L127.0 288.3L127.2 289.0L127.4 289.2L127.4 289.3L127.7 289.9L128.4 290.0L129.1 290.0L129.4 290.3L129.5 290.1L129.7 290.3L129.8 290.0L129.8 290.1L130.0 290.0L130.1 290.1L130.3 289.9L130.5 290.0L130.8 289.6L130.9 289.8L131.1 289.1L131.5 288.0L131.6 287.7L132.1 289.2L132.2 289.3L132.3 289.7L132.9 290.2L133.1 290.1L133.2 290.1L133.2 290.3L133.4 290.1L133.5 290.1L133.6 290.2L133.7 290.1L134.0 290.3L134.3 290.1L134.4 290.2L134.6 290.1L134.9 290.2L135.0 290.1L135.2 290.2L135.3 290.0L135.6 289.8L135.6 289.7L135.8 289.6L135.9 289.4L136.0 289.5L136.1 289.4L136.6 290.0L136.7 290.1L137.0 290.3L137.0 290.2L137.1 290.3L137.3 290.2L137.3 290.3L137.4 290.2L137.7 290.2L138.0 290.4L138.0 290.3L138.1 290.2L138.4 290.4L138.7 290.4L139.0 290.2L139.4 290.2L140.8 290.5L141.4 290.3L141.8 290.4L142.5 290.3L142.8 290.2L143.2 290.4L143.5 290.5L143.8 290.4L144.2 290.3L144.5 290.4L144.9 290.3L145.2 290.4L145.6 290.3L145.9 290.4L146.2 290.3L146.3 290.2L146.5 290.3L146.6 290.2L146.9 290.1L146.9 290.0L147.0 290.0L147.2 289.5L147.3 289.4L147.5 288.4L147.6 287.6L147.7 287.4L148.1 289.3L148.4 290.0L148.5 290.0L148.6 290.1L148.7 290.3L148.9 290.3L149.1 290.2L149.3 290.4L150.0 290.2L150.7 290.3L151.0 290.4L151.4 290.5L151.7 290.3L152.1 290.5L152.4 290.3L153.1 290.5L153.4 290.4L153.8 290.5L154.5 290.3L154.8 290.4L155.2 290.4L155.5 290.3L155.9 290.3L156.5 290.3L157.9 290.4L158.3 290.3L158.6 290.4L158.9 290.4L159.1 290.2L159.2 290.3L159.3 290.1L159.3 290.2L159.4 290.1L159.6 289.8L159.9 289.2L160.1 288.1L160.2 288.0L160.2 288.1L160.4 289.2L160.6 289.8L160.8 290.1L161.0 290.1L161.0 290.1L161.2 290.3L161.3 290.2L161.4 290.4L161.5 290.3L162.0 290.2L162.4 290.3L162.7 290.3L163.4 290.5L163.7 290.5L164.8 290.3L165.1 290.4L165.8 290.4L166.1 290.3L166.5 290.5L166.8 290.3L167.5 290.3L168.2 290.5L168.5 290.3L168.9 290.4L169.2 290.4L169.6 290.3L169.9 290.3L170.6 290.4L170.9 290.5L171.6 290.3L172.7 290.3L172.7 290.1L172.8 290.1L173.0 290.2L173.0 290.0L173.2 289.8L173.3 289.8L173.6 289.2L173.8 288.2L174.0 286.3L174.1 286.0L174.2 286.3L174.4 288.3L174.7 289.6L175.2 290.0L175.3 290.2L175.4 290.1L175.4 290.2L176.1 290.4L177.1 290.5L177.5 290.4L177.8 290.5L178.2 290.3L178.8 290.3L180.6 290.4L180.9 290.3L181.6 290.4L182.3 290.3L182.6 290.4L183.0 290.3L183.3 290.4L183.6 290.4L184.0 290.5L184.3 290.5L184.7 290.2L185.0 290.4L185.4 290.4L186.0 290.2L186.0 290.2L186.2 290.2L186.4 290.3L186.5 290.2L186.6 290.1L186.8 290.2L186.9 290.1L187.1 289.9L187.4 289.8L187.8 288.6L188.0 288.0L188.1 287.7L188.2 287.9L188.4 288.7L188.7 289.5L188.7 289.2L188.8 289.6L189.0 289.6L189.1 289.8L189.1 289.6L189.5 289.7L189.6 289.6L189.7 289.5L189.8 289.6L190.2 288.6L190.2 288.7L190.5 287.7L190.9 289.2L191.2 289.7L191.2 289.6L191.5 290.0L191.5 289.9L191.7 290.1L191.9 290.2L192.0 290.1L192.1 290.3L192.2 290.3L192.3 290.3L192.4 290.1L192.6 290.3L192.9 290.3L193.2 290.4L193.6 290.4L193.9 290.2L194.3 290.3L194.6 290.2L194.9 290.3L195.0 290.2L195.1 290.3L195.2 290.2L195.4 290.2L195.5 290.1L195.6 290.2L195.7 290.3L195.8 290.3L196.0 290.0L196.1 290.2L196.3 290.1L196.4 289.7L196.7 289.4L196.9 288.9L197.0 288.8L197.6 289.9L197.7 289.8L197.9 290.2L198.0 290.2L198.1 290.0L198.2 290.1L198.4 290.3L198.4 290.2L198.7 290.3L198.8 290.4L199.0 290.2L199.1 290.3L199.1 290.2L199.8 290.4L200.1 290.2L200.8 290.4L200.9 290.2L201.0 290.4L201.1 290.3L201.5 290.4L201.6 290.2L201.8 290.3L201.8 290.1L201.9 290.2L202.1 290.1L202.2 290.0L202.2 290.1L202.5 289.9L202.5 290.0L202.7 289.7L202.8 289.5L203.0 289.5L203.2 289.7L203.3 289.6L203.4 289.8L203.5 290.1L203.6 289.9L203.9 290.2L204.0 290.2L204.2 290.4L204.2 290.2L204.5 290.4L204.6 290.2L204.6 290.3L204.9 290.4L204.9 290.3L205.0 290.3L205.3 290.2L205.9 290.3L206.3 290.3L206.6 290.5L207.0 290.3L207.3 290.3L207.7 290.5L208.0 290.4L208.3 290.3L208.7 290.5L209.4 290.4L209.7 290.4L210.1 290.3L210.4 290.3" fill="none" stroke="#9494f0" stroke-width="0.6"/>
<path d="M32.0 313.9L32.3 313.9L33.4 313.7L33.7 313.8L34.1 313.8L34.4 313.9L34.7 313.8L35.1 313.9L35.4 313.7L35.8 313.9L36.5 313.8L37.1 313.8L37.5 313.7L38.2 313.9L38.5 313.7L38.9 313.9L39.5 313.9L40.2 313.7L40.6 313.9L40.9 313.9L41.6 313.7L41.9 313.7L42.3 313.8L42.6 313.7L43.0 313.9L43.7 313.7L44.0 313.8L44.4 313.7L44.7 313.8L45.0 313.8L45.4 313.7L46.8 313.7L47.1 313.4L47.8 313.4L48.4 313.0L48.4 312.8L48.5 312.9L48.6 312.5L48.7 312.4L48.9 311.7L49.2 309.8L49.6 299.0L49.9 306.9L50.0 308.2L50.1 308.9L50.2 308.8L50.2 308.9L50.3 308.6L50.4 307.5L50.8 299.1L51.1 306.5L51.4 310.7L51.6 311.8L51.9 312.7L52.0 312.8L52.2 313.2L52.6 313.3L52.9 313.5L53.3 313.5L54.6 313.8L55.0 313.6L55.3 313.6L55.7 313.7L56.0 313.6L56.4 313.6L56.7 313.8L57.0 313.6L57.4 313.8L57.7 313.7L58.1 313.9L58.4 313.9L58.8 313.7L59.1 313.7L59.4 313.9L60.1 313.8L60.5 313.8L60.8 313.9L61.8 313.7L62.2 313.7L62.5 313.7L62.9 313.8L63.2 313.8L63.6 313.7L63.9 313.8L64.2 313.7L64.6 313.7L64.9 313.8L65.3 313.8L65.6 313.9L66.0 313.8L66.3 313.8L66.7 313.7L67.0 313.9L67.3 313.7L68.0 313.9L68.7 313.9L69.1 313.8L69.7 313.9L70.1 313.7L70.4 313.9L70.8 313.9L71.1 313.8L71.5 313.9L72.1 313.7L72.5 313.8L72.8 313.7L73.2 313.9L73.5 313.9L73.9 313.7L74.2 313.9L74.5 313.7L74.9 313.9L75.2 313.7L75.6 313.9L75.9 313.8L76.3 313.9L76.6 313.7L76.9 313.7L77.3 313.9L78.0 313.8L78.3 313.7L79.0 313.8L79.3 313.7L79.7 313.9L80.0 313.9L80.4 313.9L81.4 313.7L81.7 313.9L82.1 313.7L82.4 313.8L83.1 313.8L83.5 313.7L83.8 313.7L84.1 313.8L84.5 313.7L84.8 313.8L85.2 313.7L85.9 313.7L86.2 313.8L87.2 313.7L87.9 313.9L88.6 313.7L89.3 313.7L90.0 313.9L90.7 313.7L92.0 313.7L92.4 313.9L92.7 313.8L94.1 313.8L94.4 313.7L95.1 313.8L95.5 313.6L95.7 313.7L95.9 313.5L96.0 313.5L96.1 313.7L96.2 313.5L96.2 313.6L96.3 313.4L96.5 313.4L96.5 313.3L96.6 313.4L96.7 313.3L96.8 313.0L96.8 313.1L96.9 313.0L97.4 311.2L97.5 311.5L97.5 311.4L97.8 312.6L97.9 312.7L97.9 312.9L98.1 313.3L98.3 313.3L98.4 313.5L98.5 313.5L98.6 313.4L98.6 313.5L98.7 313.4L98.8 313.5L98.9 313.6L99.0 313.5L99.1 313.5L99.2 313.3L99.2 313.4L99.3 313.2L99.5 313.1L99.6 313.0L99.6 313.1L99.8 312.6L99.9 312.5L100.1 312.2L100.2 312.5L100.3 312.3L100.8 313.4L101.0 313.3L101.0 313.5L101.3 313.5L101.3 313.5L101.4 313.5L101.6 313.7L101.6 313.6L101.7 313.7L102.0 313.7L102.3 313.6L102.7 313.8L103.0 313.6L103.7 313.8L104.0 313.7L104.4 313.8L105.4 313.6L105.8 313.6L105.9 313.6L106.1 313.7L106.1 313.6L106.4 313.6L106.5 313.5L106.6 313.6L106.8 313.5L106.8 313.3L107.0 313.4L107.2 313.3L107.8 312.3L108.2 310.5L108.4 310.2L108.8 311.2L109.1 312.5L109.5 313.0L109.5 313.0L109.7 313.1L109.8 313.1L109.9 313.2L110.0 313.1L110.1 313.2L110.2 313.1L110.3 312.9L110.4 312.8L110.6 312.8L110.9 311.9L111.3 309.1L111.4 308.6L111.5 309.1L111.6 310.3L112.0 312.5L112.1 312.8L112.2 312.9L112.3 312.9L112.3 313.1L112.6 313.4L112.6 313.4L112.8 313.6L112.9 313.5L113.0 313.6L113.1 313.4L113.3 313.4L113.7 313.7L114.0 313.5L114.3 313.8L115.0 313.6L115.7 313.7L116.1 313.7L116.4 313.7L116.7 313.6L117.1 313.7L117.4 313.5L117.7 313.6L117.8 313.4L117.8 313.5L118.0 313.3L118.1 313.1L118.1 313.3L118.2 313.2L118.5 312.6L118.5 312.7L118.7 311.6L119.1 307.8L119.5 311.4L119.7 312.7L119.8 312.8L119.8 313.0L119.9 313.1L120.0 313.0L120.1 313.3L120.2 313.4L120.3 313.3L120.4 313.5L120.5 313.5L121.2 313.5L122.2 313.6L122.9 313.6L123.3 313.7L123.9 313.7L124.3 313.5L124.6 313.5L125.0 313.3L125.1 313.0L125.2 313.1L125.4 312.6L125.5 312.6L125.7 311.7L125.8 310.8L125.9 308.3L126.3 298.8L126.6 308.3L126.7 310.4L127.0 312.4L127.0 312.6L127.1 312.6L127.4 313.1L127.7 313.4L128.1 313.4L128.7 313.6L129.1 313.6L129.7 313.4L130.3 313.5L130.5 313.4L130.6 313.2L130.9 313.1L131.3 311.7L131.5 310.8L131.6 310.8L131.8 311.1L132.2 312.7L132.2 312.6L132.5 313.2L132.6 313.2L132.8 313.3L133.2 313.4L133.5 313.6L133.6 313.6L134.0 313.6L134.1 313.7L134.2 313.6L134.4 313.5L134.6 313.7L134.7 313.5L135.2 313.6L135.3 313.5L135.5 313.3L135.6 313.4L135.8 313.0L136.1 312.7L136.3 313.1L136.4 313.0L136.5 313.3L136.6 313.3L136.7 313.5L136.8 313.5L137.0 313.5L137.0 313.6L137.1 313.6L137.3 313.7L137.3 313.6L137.4 313.7L137.6 313.6L137.7 313.7L137.9 313.6L138.0 313.8L138.0 313.6L138.1 313.7L138.4 313.8L139.0 313.7L139.4 313.7L139.7 313.9L140.1 313.6L140.4 313.9L141.1 313.8L142.5 313.9L143.2 313.7L143.5 313.7L143.8 313.9L144.5 313.6L144.9 313.8L145.2 313.6L145.9 313.7L146.3 313.6L146.4 313.6L146.5 313.5L146.6 313.6L146.7 313.3L146.8 313.4L146.9 313.1L146.9 313.2L147.3 312.1L147.6 309.2L147.7 308.7L148.1 312.1L148.3 313.0L148.4 312.9L148.6 313.2L148.6 313.5L148.7 313.4L149.0 313.5L149.0 313.6L149.7 313.6L150.0 313.8L151.0 313.7L151.4 313.9L151.7 313.8L152.1 313.9L152.8 313.8L153.1 313.7L153.4 313.9L153.8 313.9L154.1 313.7L154.5 313.7L154.8 313.8L155.2 313.8L155.5 313.7L155.9 313.9L156.2 313.7L156.5 313.8L157.2 313.7L157.6 313.8L157.9 313.7L158.3 313.8L158.6 313.8L158.8 313.6L158.9 313.7L159.0 313.6L159.1 313.6L159.2 313.5L159.3 313.4L159.3 313.5L159.7 313.2L160.2 311.4L160.3 312.0L160.4 312.6L160.7 313.1L160.7 313.2L160.8 313.4L161.0 313.4L161.1 313.7L161.3 313.6L161.4 313.7L161.5 313.7L162.0 313.7L162.7 313.7L163.1 313.9L163.4 313.8L164.8 313.8L165.1 313.7L165.5 313.7L165.8 313.8L166.1 313.8L166.5 313.7L167.2 313.7L167.5 313.9L167.9 313.9L168.2 313.7L168.5 313.7L169.2 313.7L169.6 313.7L169.9 313.9L170.3 313.9L170.6 313.7L170.9 313.8L171.3 313.6L171.6 313.8L172.0 313.6L172.3 313.7L172.7 313.6L172.7 313.7L172.8 313.6L172.9 313.6L173.0 313.4L173.0 313.5L173.2 313.2L173.3 313.4L173.3 313.1L173.4 313.1L173.7 312.4L174.0 309.6L174.1 309.3L174.5 312.1L174.7 312.9L174.9 313.3L175.1 313.3L175.1 313.5L175.3 313.4L175.4 313.6L175.4 313.4L175.5 313.6L176.1 313.7L176.4 313.6L176.8 313.8L177.5 313.7L177.8 313.8L178.2 313.7L178.8 313.8L179.2 313.7L179.5 313.9L179.9 313.7L180.2 313.9L180.6 313.8L180.9 313.8L181.2 313.7L181.6 313.8L181.9 313.7L182.6 313.8L183.0 313.7L183.3 313.6L183.6 313.8L184.0 313.7L184.3 313.8L185.0 313.8L185.4 313.5L185.4 313.7L185.6 313.7L185.7 313.5L185.9 313.7L186.3 313.5L186.6 313.1L186.7 313.2L186.9 313.0L187.4 311.3L187.7 311.5L188.0 312.6L188.2 313.1L188.4 313.1L188.5 313.3L188.7 313.3L188.8 313.4L188.8 313.3L189.1 313.4L189.1 313.4L189.3 313.5L189.5 313.3L189.7 313.2L189.8 313.0L189.9 313.1L190.0 312.6L190.2 312.4L190.3 311.8L190.5 311.6L190.8 312.6L190.9 312.8L191.1 312.9L191.2 313.2L191.2 313.1L191.4 313.2L191.5 313.4L191.5 313.2L191.8 313.4L191.9 313.6L192.0 313.4L192.1 313.6L192.2 313.6L192.3 313.4L192.6 313.3L192.7 313.3L192.9 313.2L192.9 313.1L193.0 313.0L193.2 312.3L193.5 312.3L193.9 313.1L193.9 313.1L194.2 313.2L194.3 313.5L194.6 313.5L194.9 313.7L195.0 313.6L195.1 313.6L195.2 313.7L195.3 313.5L195.4 313.7L195.6 313.4L195.7 313.5L196.0 313.4L196.0 313.6L196.3 313.2L196.3 313.4L197.0 312.2L197.6 313.3L197.7 313.2L197.8 313.3L198.1 313.4L198.2 313.6L198.4 313.7L198.4 313.6L198.7 313.7L198.7 313.6L199.0 313.8L199.1 313.6L199.4 313.7L200.5 313.6L200.8 313.9L201.1 313.6L201.2 313.7L201.3 313.7L201.5 313.8L201.8 313.6L201.8 313.7L201.9 313.5L202.2 313.5L202.2 313.6L202.4 313.5L202.5 313.3L202.5 313.3L203.0 312.7L203.1 312.9L203.2 312.9L203.5 313.3L203.6 313.5L203.7 313.5L203.9 313.6L203.9 313.5L204.0 313.7L204.2 313.7L204.3 313.8L204.5 313.6L204.6 313.8L204.6 313.6L204.8 313.8L204.9 313.6L204.9 313.7L205.0 313.8L205.3 313.7L205.6 313.8L205.9 313.7L206.3 313.9L206.6 313.7L207.0 313.9L207.3 313.9L207.7 313.7L209.4 313.7L209.7 313.8L210.4 313.7" fill="none" stroke="#5ab4ac" stroke-width="0.6"/>
<path d="M50.7 316.2V318.7M99.9 316.2V318.7M108.4 316.2V318.7M112.1 316.2V318.7M126.6 316.2V318.7M136.4 316.2V318.7M151.8 316.2V318.7M160.3 316.2V318.7M174.4 316.2V318.7M190.2 316.2V318.7M197.9 316.2V318.7M204.9 316.2V318.7M207.1 316.2V318.7" stroke="#ff9aee" stroke-width="0.8" fill="none"/>
<path d="M49.7 319.1V321.8M98.2 319.1V321.8M108.6 319.1V321.8M111.4 319.1V321.8M118.8 319.1V321.8M131.1 319.1V321.8M148.0 319.1V321.8M166.1 319.1V321.8M187.7 319.1V321.8M192.6 319.1V321.8M200.0 319.1V321.8M202.7 319.1V321.8" stroke="#8cf08c" stroke-width="0.8" fill="none"/>
<path d="M113.2 322.2V326.0M131.1 322.2V326.0M189.7 322.2V326.0" stroke="#f09a9a" stroke-width="0.8" fill="none"/>
<rect x="32.0" y="189.5" width="178.4" height="139.8" fill="none" stroke="#222" stroke-width="1.05"/>
<path d="M32.0 329.3v2.7M61.7 329.3v2.7M91.5 329.3v2.7M121.2 329.3v2.7M150.9 329.3v2.7M180.7 329.3v2.7M210.4 329.3v2.7M46.9 329.3v1.5M76.6 329.3v1.5M106.3 329.3v1.5M136.1 329.3v1.5M165.8 329.3v1.5M195.5 329.3v1.5" stroke="#222" stroke-width="0.9" fill="none"/>
<text x="32.0" y="340" font-size="8.3" text-anchor="middle" fill="#111" stroke="#111" stroke-width="0.04" >10</text>
<text x="61.7" y="340" font-size="8.3" text-anchor="middle" fill="#111" stroke="#111" stroke-width="0.04" >20</text>
<text x="91.5" y="340" font-size="8.3" text-anchor="middle" fill="#111" stroke="#111" stroke-width="0.04" >30</text>
<text x="121.2" y="340" font-size="8.3" text-anchor="middle" fill="#111" stroke="#111" stroke-width="0.04" >40</text>
<text x="150.9" y="340" font-size="8.3" text-anchor="middle" fill="#111" stroke="#111" stroke-width="0.04" >50</text>
<text x="180.7" y="340" font-size="8.3" text-anchor="middle" fill="#111" stroke="#111" stroke-width="0.04" >60</text>
<text x="210.4" y="340" font-size="8.3" text-anchor="middle" fill="#111" stroke="#111" stroke-width="0.04" >70</text>
<text x="121.4" y="354" font-size="9.8" text-anchor="middle" fill="#111" stroke="#111" stroke-width="0.04" >2θ (degree)</text>
<text transform="translate(25.4 263.4) rotate(-90)" font-size="11" text-anchor="middle" fill="#111" stroke="#111" stroke-width="0.15" >Intensity (a.u.)</text>
<text x="206.5" y="225.2" font-size="8.7" text-anchor="end" fill="#111" stroke="#111" stroke-width="0.04" >8442-1000</text>
<text x="205.8" y="254.9" font-size="8.7" text-anchor="end" fill="#111" stroke="#111" stroke-width="0.04" >8442-950</text>
<text x="205.6" y="283.1" font-size="8.7" text-anchor="end" fill="#111" stroke="#111" stroke-width="0.04" >8442-900</text>
<text x="205" y="307.7" font-size="8.7" text-anchor="end" fill="#111" stroke="#111" stroke-width="0.04" >8442-850</text>
<text x="82" y="199.9" font-size="9.5" text-anchor="start" fill="#111" stroke="#111" stroke-width="0.04" >O3 phase</text>
<rect x="67.80000000000001" y="195.20000000000002" width="1.2" height="3.2" fill="#fccff4"/>
<text x="82" y="212.6" font-size="9.5" text-anchor="start" fill="#111" stroke="#111" stroke-width="0.04" >P2 phase</text>
<rect x="67.80000000000001" y="207.9" width="1.2" height="3.2" fill="#cdf5cd"/>
<text x="82" y="225.9" font-size="9.5" text-anchor="start" fill="#111" stroke="#111" stroke-width="0.04" >NiO phase</text>
<rect x="67.80000000000001" y="221.20000000000002" width="1.2" height="3.2" fill="#fccff4"/>
<text x="11.2" y="194" font-size="15" text-anchor="start" fill="#111" stroke="#111" stroke-width="0.05" >(d)</text>
<path d="M245.5 53.2L255.9 53.0L259.4 52.8L262.3 52.6L264.6 52.2L266.3 51.8L267.9 51.2L269.2 50.5L270.4 49.5L271.4 48.3L272.1 47.0L272.9 45.2L273.5 43.3L273.9 41.5L275.2 33.4L275.4 32.7L275.6 32.5L275.8 32.9L276.0 33.6L277.2 41.4L277.7 44.0L278.1 45.7L278.7 47.2L279.5 48.7L280.2 49.7L281.2 50.5L282.4 51.2L283.9 51.8L285.6 52.3L287.8 52.6L290.5 52.8L293.8 53.0L303.4 53.2" fill="none" stroke="#a2a2e2" stroke-width="0.6"/>
<path d="M245.5 84.4L253.8 84.3L256.5 84.1L258.4 84.0L260.4 83.6L261.1 83.4L262.3 82.9L262.9 82.7L263.4 82.7L265.0 82.9L265.8 82.9L266.5 82.8L268.0 82.3L269.3 81.6L270.4 80.7L271.2 79.6L271.9 78.3L272.6 76.5L273.2 74.6L273.7 72.1L274.8 64.6L275.0 63.8L275.2 63.6L275.4 63.8L275.6 64.6L276.8 72.1L277.3 74.6L277.8 76.5L278.3 77.9L279.1 79.4L280.0 80.7L281.0 81.6L282.2 82.3L283.7 82.9L285.5 83.4L287.6 83.7L290.3 84.0L293.6 84.2L303.4 84.4" fill="none" stroke="#bdbd7e" stroke-width="0.6"/>
<path d="M245.5 114.3L250.7 114.3L254.2 114.1L256.5 113.7L257.5 113.5L258.2 113.2L258.8 112.9L259.4 112.5L260.0 111.9L260.4 111.4L261.1 110.0L262.3 107.1L262.7 106.5L262.9 106.4L263.1 106.5L263.4 107.0L264.4 109.1L265.0 110.2L265.4 110.8L266.0 111.2L266.5 111.5L267.4 111.6L268.3 111.4L269.0 111.0L269.8 110.3L270.6 109.3L271.2 108.1L271.7 106.7L272.3 104.6L272.7 102.7L273.7 96.7L274.1 94.7L274.3 94.1L274.4 93.8L274.6 94.1L274.8 94.7L275.2 96.8L276.2 102.9L276.6 104.8L277.2 107.0L277.7 108.6L278.5 110.1L279.5 111.4L280.4 112.2L281.6 112.9L283.1 113.6L284.9 114.0L287.0 114.4L289.7 114.7L293.2 114.9L303.4 115.3" fill="none" stroke="#ff7af0" stroke-width="0.6"/>
<path d="M245.5 138.9L248.2 138.8L250.5 138.6L252.3 138.3L253.8 138.0L255.0 137.6L256.1 137.0L257.1 136.3L257.9 135.5L258.5 134.6L259.0 133.6L259.5 132.3L260.0 130.7L260.6 127.8L261.7 120.0L261.9 119.2L262.1 118.9L262.3 119.2L262.6 120.7L263.4 126.6L263.8 128.9L264.2 130.7L264.8 132.7L265.6 134.4L266.3 135.6L267.3 136.5L268.5 137.3L269.6 137.8L271.2 138.1L272.7 138.3L274.3 138.3L275.2 138.2L276.2 137.9L277.2 137.5L278.7 136.6L279.1 136.4L279.5 136.4L279.9 136.5L280.2 136.6L282.0 137.9L282.9 138.4L284.3 138.9L285.8 139.2L288.2 139.4L291.4 139.6L303.4 139.9" fill="none" stroke="#66b4ae" stroke-width="0.6"/>
<path d="M262.7 20.3V139" stroke="#22ee22" stroke-width="1.0" stroke-dasharray="6.2 1.8 1.1 1.8" fill="none"/>
<path d="M275.4 20.3V139" stroke="#ff22ff" stroke-width="1.15" stroke-dasharray="6.2 1.8 1.1 1.8" fill="none"/>
<rect x="262.3" y="144.2" width="2.2" height="2.6" fill="#d2f7d2"/>
<rect x="274.3" y="141.7" width="2.2" height="2.6" fill="#ffd2f7"/>
<rect x="245.5" y="14.5" width="57.9" height="139.5" fill="none" stroke="#222" stroke-width="1.05"/>
<path d="M245.5 154.0v2.7M264.8 154.0v2.7M284.1 154.0v2.7M303.4 154.0v2.7" stroke="#222" stroke-width="0.9" fill="none"/>
<text x="245.5" y="165.1" font-size="8.3" text-anchor="middle" fill="#111" stroke="#111" stroke-width="0.04" >15.5</text>
<text x="264.8" y="165.1" font-size="8.3" text-anchor="middle" fill="#111" stroke="#111" stroke-width="0.04" >16.0</text>
<text x="284.1" y="165.1" font-size="8.3" text-anchor="middle" fill="#111" stroke="#111" stroke-width="0.04" >16.5</text>
<text x="303.4" y="165.1" font-size="8.3" text-anchor="middle" fill="#111" stroke="#111" stroke-width="0.04" >17.0</text>
<text x="255.4" y="26.7" font-size="9.2" text-anchor="middle" fill="#111" stroke="#111" stroke-width="0.04" >P2</text>
<text x="256.2" y="39.4" font-size="9.2" text-anchor="middle" fill="#111" stroke="#111" stroke-width="0.04" >(002)</text>
<text x="290.7" y="26.9" font-size="9.2" text-anchor="middle" fill="#111" stroke="#111" stroke-width="0.04" >O3</text>
<text x="291" y="39.6" font-size="9.2" text-anchor="middle" fill="#111" stroke="#111" stroke-width="0.04" >(003)</text>
<text x="219.8" y="17.0" font-size="15" text-anchor="start" fill="#111" stroke="#111" stroke-width="0.05" >(b)</text>
<path d="M245.0 233.1L248.9 232.8L252.2 232.5L254.9 232.1L257.1 231.7L259.0 231.1L260.6 230.5L261.9 229.7L263.3 228.6L264.7 227.2L266.0 225.4L267.7 222.6L269.1 219.8L269.7 218.3L270.3 216.4L270.7 214.7L271.7 209.7L271.9 209.0L272.1 208.6L272.3 208.7L272.4 209.1L272.6 209.9L274.0 219.1L274.6 222.0L275.2 224.1L275.8 225.7L276.5 227.2L277.5 228.5L278.5 229.4L279.8 230.2L281.6 230.9L283.5 231.5L286.1 231.9L289.0 232.2L292.7 232.4L297.4 232.5L303.4 232.6" fill="none" stroke="#acacea" stroke-width="0.6"/>
<path d="M245.0 263.3L250.1 263.0L253.8 262.6L256.5 262.1L257.5 261.8L258.4 261.4L259.0 261.0L259.6 260.6L260.2 259.9L260.6 259.3L261.2 258.0L262.1 254.8L262.3 254.3L262.5 254.1L262.7 254.1L262.9 254.4L263.9 256.5L264.1 256.8L264.5 257.2L264.9 257.4L265.2 257.4L265.7 257.3L266.2 257.0L267.2 256.2L268.4 255.0L269.5 253.5L270.3 252.3L271.1 250.6L271.5 249.5L272.4 246.0L272.6 245.5L272.8 245.2L273.0 245.2L273.2 245.6L273.4 246.1L274.8 252.7L275.4 254.8L276.0 256.4L276.7 257.8L277.5 258.8L278.5 259.8L279.5 260.4L280.8 261.0L282.6 261.6L284.5 262.0L287.0 262.3L290.0 262.6L293.5 262.8L303.4 262.9" fill="none" stroke="#bdbd7e" stroke-width="0.6"/>
<path d="M245.0 290.8L249.5 290.5L252.8 290.1L254.0 289.9L255.1 289.5L256.1 289.1L256.9 288.7L257.7 288.1L258.2 287.5L259.2 286.1L260.2 284.1L261.7 280.0L262.1 279.4L262.3 279.2L262.5 279.1L262.7 279.1L262.9 279.3L263.3 279.9L264.7 283.3L265.2 284.6L265.9 285.8L266.6 286.7L267.1 287.1L267.6 287.5L268.2 287.8L268.6 287.9L269.1 288.0L269.7 288.0L270.3 287.8L270.7 287.6L271.3 287.1L271.9 286.3L272.4 285.2L272.8 284.3L273.8 281.3L275.6 274.3L276.1 272.2L276.8 270.6L277.1 270.1L277.5 269.8L277.7 269.8L277.9 269.9L278.3 270.4L278.7 271.2L279.1 272.3L279.7 274.5L281.4 281.9L282.0 284.0L282.6 285.7L283.0 286.6L283.5 287.7L284.1 288.6L284.7 289.1L285.5 289.6L286.3 289.9L287.2 290.0L288.8 290.2L294.4 290.5L303.4 290.6" fill="none" stroke="#9494f0" stroke-width="0.6"/>
<path d="M245.0 313.7L248.9 313.4L250.5 313.2L251.6 312.9L252.8 312.6L253.8 312.1L254.5 311.7L255.3 311.1L256.3 310.0L256.9 309.0L257.3 308.3L258.2 305.8L259.8 300.8L260.2 300.0L260.4 299.8L260.6 299.7L260.8 299.8L261.0 300.0L261.4 300.8L263.1 306.2L263.7 307.7L264.2 308.7L264.9 309.7L265.6 310.6L266.4 311.1L267.4 311.6L268.6 311.9L269.1 311.9L269.7 311.8L270.7 311.5L271.3 311.1L271.7 310.7L272.4 309.7L273.2 308.3L274.0 306.6L275.4 303.3L276.1 301.7L276.5 301.1L276.9 300.7L277.3 300.5L277.5 300.4L277.9 300.5L278.3 300.8L278.7 301.3L279.1 302.0L279.8 303.8L281.6 308.3L282.2 309.6L282.8 310.7L283.3 311.6L283.9 312.2L284.5 312.8L285.1 313.1L285.9 313.5L286.7 313.7L287.8 313.9L289.4 314.0L295.0 314.3L303.4 314.5" fill="none" stroke="#5ab4ac" stroke-width="0.6"/>
<path d="M262.5 205.5V315.4" stroke="#22ee22" stroke-width="1.0" stroke-dasharray="6.2 1.8 1.1 1.8" fill="none"/>
<path d="M274.6 205.5V315.4" stroke="#ff22ff" stroke-width="1.15" stroke-dasharray="6.2 1.8 1.1 1.8" fill="none"/>
<rect x="261.2" y="319.7" width="2.2" height="2.6" fill="#d2f7d2"/>
<rect x="273.5" y="316.1" width="2.2" height="2.6" fill="#ffd2f7"/>
<rect x="245" y="190" width="58.4" height="139.2" fill="none" stroke="#222" stroke-width="1.05"/>
<path d="M245.0 329.2v2.7M264.5 329.2v2.7M283.9 329.2v2.7M303.4 329.2v2.7M254.7 329.2v1.5M274.2 329.2v1.5M293.7 329.2v1.5" stroke="#222" stroke-width="0.9" fill="none"/>
<text x="245.0" y="340.9" font-size="8.3" text-anchor="middle" fill="#111" stroke="#111" stroke-width="0.04" >15.5</text>
<text x="264.5" y="340.9" font-size="8.3" text-anchor="middle" fill="#111" stroke="#111" stroke-width="0.04" >16.0</text>
<text x="283.9" y="340.9" font-size="8.3" text-anchor="middle" fill="#111" stroke="#111" stroke-width="0.04" >16.5</text>
<text x="303.4" y="340.9" font-size="8.3" text-anchor="middle" fill="#111" stroke="#111" stroke-width="0.04" >17.0</text>
<text x="254.7" y="203.3" font-size="9.2" text-anchor="middle" fill="#111" stroke="#111" stroke-width="0.04" >P2</text>
<text x="255.2" y="214.9" font-size="9.2" text-anchor="middle" fill="#111" stroke="#111" stroke-width="0.04" >(002)</text>
<text x="289.9" y="203.3" font-size="9.2" text-anchor="middle" fill="#111" stroke="#111" stroke-width="0.04" >O3</text>
<text x="289.9" y="214.9" font-size="9.2" text-anchor="middle" fill="#111" stroke="#111" stroke-width="0.04" >(003)</text>
<text x="221.2" y="193.5" font-size="15" text-anchor="start" fill="#111" stroke="#111" stroke-width="0.05" >(e)</text>
<rect x="362.48" y="115.74" width="12.05" height="39.76" fill="#ff00ff" stroke="#5a105a" stroke-width="0.55"/>
<rect x="374.53" y="60.33" width="12.05" height="95.17" fill="#00ff00" stroke="#0c5a0c" stroke-width="0.55"/>
<rect x="386.58" y="150.56" width="12.05" height="4.93" fill="#990000" stroke="#3a0808" stroke-width="0.55"/>
<rect x="407.57" y="49.75" width="12.05" height="105.75" fill="#ff00ff" stroke="#5a105a" stroke-width="0.55"/>
<rect x="419.62" y="126.59" width="12.05" height="28.90" fill="#00ff00" stroke="#0c5a0c" stroke-width="0.55"/>
<rect x="431.68" y="149.16" width="12.05" height="6.34" fill="#990000" stroke="#3a0808" stroke-width="0.55"/>
<rect x="452.68" y="19.44" width="12.05" height="136.06" fill="#ff00ff" stroke="#5a105a" stroke-width="0.55"/>
<rect x="476.78" y="151.27" width="12.05" height="4.23" fill="#990000" stroke="#3a0808" stroke-width="0.55"/>
<rect x="497.77" y="14.50" width="12.05" height="141.00" fill="#ff00ff" stroke="#5a105a" stroke-width="0.55"/>
<rect x="358.0" y="14.5" width="180.4" height="141.0" fill="none" stroke="#222" stroke-width="1.1"/>
<path d="M380.55 155.50v2.8M425.65 155.50v2.8M470.75 155.50v2.8M515.85 155.50v2.8M358.00 155.50h-3.2M358.00 120.25h-3.2M358.00 85.00h-3.2M358.00 49.75h-3.2M358.00 14.50h-3.2M358.00 137.88h-1.7M358.00 102.62h-1.7M358.00 67.38h-1.7M358.00 32.12h-1.7" stroke="#222" stroke-width="0.9" fill="none"/>
<text x="353.8" y="157.9" font-size="7.2" text-anchor="end" fill="#111" stroke="#111" stroke-width="0.04" >0</text>
<text x="353.8" y="122.7" font-size="7.2" text-anchor="end" fill="#111" stroke="#111" stroke-width="0.04" >25</text>
<text x="353.8" y="87.4" font-size="7.2" text-anchor="end" fill="#111" stroke="#111" stroke-width="0.04" >50</text>
<text x="353.8" y="52.2" font-size="7.2" text-anchor="end" fill="#111" stroke="#111" stroke-width="0.04" >75</text>
<text x="353.8" y="16.9" font-size="7.2" text-anchor="end" fill="#111" stroke="#111" stroke-width="0.04" >100</text>
<text x="380.6" y="167.5" font-size="9" text-anchor="middle" fill="#111" stroke="#111" stroke-width="0.04" >846-Mn-950</text>
<text x="425.6" y="167.5" font-size="9" text-anchor="middle" fill="#111" stroke="#111" stroke-width="0.04" >8442-950</text>
<text x="470.8" y="167.5" font-size="9" text-anchor="middle" fill="#111" stroke="#111" stroke-width="0.04" >8424-950</text>
<text x="515.8" y="167.5" font-size="9" text-anchor="middle" fill="#111" stroke="#111" stroke-width="0.04" >846-Ti-950</text>
<text x="448" y="181.1" font-size="10.3" text-anchor="middle" fill="#111" stroke="#111" stroke-width="0.04" >Sample name</text>
<text transform="translate(339.5 92.3) rotate(-90)" font-size="11.5" text-anchor="middle" fill="#111" stroke="#111" stroke-width="0.15" >Weight Fraction (%)</text>
<rect x="360.8" y="18.6" width="17.8" height="7.2" fill="#ff00ff" stroke="#222" stroke-width="0.7"/>
<text x="380.7" y="24.9" font-size="8.15" text-anchor="start" fill="#111" stroke="#111" stroke-width="0.04" >O3 phase (R-3m)</text>
<rect x="360.8" y="29.6" width="17.8" height="7.0" fill="#00ff00" stroke="#222" stroke-width="0.7"/>
<text x="380.7" y="35.8" font-size="8.15" text-anchor="start" fill="#111" stroke="#111" stroke-width="0.04" >P2 phase (P63/mmc)</text>
<rect x="360.8" y="40" width="17.8" height="7.0" fill="#990000" stroke="#222" stroke-width="0.7"/>
<text x="380.7" y="46.2" font-size="8.15" text-anchor="start" fill="#111" stroke="#111" stroke-width="0.04" >NiO (Fm-3m)</text>
<text x="323" y="17.5" font-size="15" text-anchor="start" fill="#111" stroke="#111" stroke-width="0.05" >(c)</text>
<rect x="362.39" y="247.61" width="12.05" height="82.89" fill="#ff00ff" stroke="#5a105a" stroke-width="0.55"/>
<rect x="374.44" y="278.51" width="12.05" height="51.98" fill="#00ff00" stroke="#0c5a0c" stroke-width="0.55"/>
<rect x="386.49" y="325.16" width="12.05" height="5.34" fill="#990000" stroke="#3a0808" stroke-width="0.55"/>
<rect x="407.51" y="234.96" width="12.05" height="95.54" fill="#ff00ff" stroke="#5a105a" stroke-width="0.55"/>
<rect x="419.56" y="290.46" width="12.05" height="40.04" fill="#00ff00" stroke="#0c5a0c" stroke-width="0.55"/>
<rect x="431.61" y="325.58" width="12.05" height="4.92" fill="#990000" stroke="#3a0808" stroke-width="0.55"/>
<rect x="452.64" y="225.12" width="12.05" height="105.38" fill="#ff00ff" stroke="#5a105a" stroke-width="0.55"/>
<rect x="464.69" y="301.70" width="12.05" height="28.80" fill="#00ff00" stroke="#0c5a0c" stroke-width="0.55"/>
<rect x="476.74" y="324.18" width="12.05" height="6.32" fill="#990000" stroke="#3a0808" stroke-width="0.55"/>
<rect x="497.76" y="195.62" width="12.05" height="134.88" fill="#ff00ff" stroke="#5a105a" stroke-width="0.55"/>
<rect x="521.86" y="325.16" width="12.05" height="5.34" fill="#990000" stroke="#3a0808" stroke-width="0.55"/>
<rect x="357.9" y="190" width="180.5" height="140.5" fill="none" stroke="#222" stroke-width="1.1"/>
<path d="M380.46 330.50v2.8M425.59 330.50v2.8M470.71 330.50v2.8M515.84 330.50v2.8M357.90 330.50h-3.2M357.90 295.38h-3.2M357.90 260.25h-3.2M357.90 225.12h-3.2M357.90 190.00h-3.2M357.90 312.94h-1.7M357.90 277.81h-1.7M357.90 242.69h-1.7M357.90 207.56h-1.7" stroke="#222" stroke-width="0.9" fill="none"/>
<text x="353.9" y="333.3" font-size="8.4" text-anchor="end" fill="#111" stroke="#111" stroke-width="0.04" >0</text>
<text x="353.9" y="298.2" font-size="8.4" text-anchor="end" fill="#111" stroke="#111" stroke-width="0.04" >25</text>
<text x="353.9" y="263.1" font-size="8.4" text-anchor="end" fill="#111" stroke="#111" stroke-width="0.04" >50</text>
<text x="353.9" y="227.9" font-size="8.4" text-anchor="end" fill="#111" stroke="#111" stroke-width="0.04" >75</text>
<text x="353.9" y="192.8" font-size="8.4" text-anchor="end" fill="#111" stroke="#111" stroke-width="0.04" >100</text>
<text x="380.5" y="342.8" font-size="8.9" text-anchor="middle" fill="#111" stroke="#111" stroke-width="0.04" >8442-850</text>
<text x="425.6" y="342.8" font-size="8.9" text-anchor="middle" fill="#111" stroke="#111" stroke-width="0.04" >8442-900</text>
<text x="470.7" y="342.8" font-size="8.9" text-anchor="middle" fill="#111" stroke="#111" stroke-width="0.04" >8442-950</text>
<text x="515.8" y="342.8" font-size="8.9" text-anchor="middle" fill="#111" stroke="#111" stroke-width="0.04" >8442-1000</text>
<text x="448" y="356.3" font-size="10.3" text-anchor="middle" fill="#111" stroke="#111" stroke-width="0.04" >Sample name</text>
<text transform="translate(336.4 266.2) rotate(-90)" font-size="11.5" text-anchor="middle" fill="#111" stroke="#111" stroke-width="0.15" >Weight Fraction (%)</text>
<rect x="362.4" y="194.2" width="17.8" height="7.1" fill="#ff00ff" stroke="#222" stroke-width="0.7"/>
<text x="382.9" y="200.4" font-size="8.15" text-anchor="start" fill="#111" stroke="#111" stroke-width="0.04" >O3 phase (R-3m)</text>
<rect x="362.4" y="204.8" width="17.8" height="7.3" fill="#00ff00" stroke="#222" stroke-width="0.7"/>
<text x="382.9" y="211.1" font-size="8.15" text-anchor="start" fill="#111" stroke="#111" stroke-width="0.04" >P2 phase (P63/mmc)</text>
<rect x="362.4" y="215.6" width="17.8" height="7.3" fill="#990000" stroke="#222" stroke-width="0.7"/>
<text x="382.9" y="221.9" font-size="8.15" text-anchor="start" fill="#111" stroke="#111" stroke-width="0.04" >NiO (Fm-3m)</text>
<text x="324.3" y="194" font-size="15" text-anchor="start" fill="#111" stroke="#111" stroke-width="0.05" >(f)</text>
</svg>
</body></html>
